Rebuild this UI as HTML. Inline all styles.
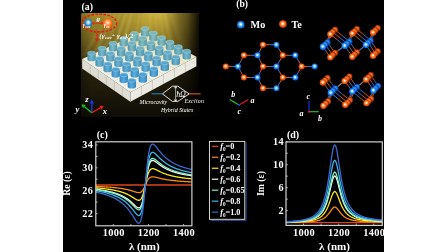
<!DOCTYPE html>
<html><head><meta charset="utf-8"><style>
html,body{margin:0;padding:0;background:#fff;}
body{width:448px;height:252px;overflow:hidden;position:relative;}
#blk{position:absolute;left:63px;top:0;width:321px;height:252px;background:#000;overflow:hidden;}
#fig{position:absolute;left:0;top:0;}
</style></head><body>
<div id="blk"></div>
<svg id="fig" width="448" height="252" viewBox="0 0 448 252">
<clipPath id="blkclip"><rect x="63" y="0" width="321" height="252"/></clipPath>
<g clip-path="url(#blkclip)">
<defs>
<radialGradient id="glow" cx="165" cy="8" r="75" gradientUnits="userSpaceOnUse">
<stop offset="0" stop-color="#c8a82a"/><stop offset="0.35" stop-color="#8a7418"/><stop offset="0.75" stop-color="#3c3210"/><stop offset="1" stop-color="#1c1808"/></radialGradient>
<radialGradient id="sb" cx="0.48" cy="0.46" r="0.6"><stop offset="0" stop-color="#ffffff"/><stop offset="0.18" stop-color="#e0f4ff"/><stop offset="0.38" stop-color="#58b4ff"/><stop offset="0.6" stop-color="#1a80f0"/><stop offset="1" stop-color="#0850c0"/></radialGradient>
<radialGradient id="so" cx="0.48" cy="0.46" r="0.6"><stop offset="0" stop-color="#ffffff"/><stop offset="0.18" stop-color="#fff0d8"/><stop offset="0.38" stop-color="#ff8a3a"/><stop offset="0.6" stop-color="#f05a10"/><stop offset="1" stop-color="#c03800"/></radialGradient>
<radialGradient id="sob" cx="0.46" cy="0.44" r="0.62"><stop offset="0" stop-color="#ff8a40"/><stop offset="0.6" stop-color="#e05010"/><stop offset="1" stop-color="#902800"/></radialGradient>
<radialGradient id="sbb" cx="0.46" cy="0.44" r="0.62"><stop offset="0" stop-color="#40a0ff"/><stop offset="0.6" stop-color="#1a70e0"/><stop offset="1" stop-color="#0840a0"/></radialGradient>
<radialGradient id="sbA" cx="0.5" cy="0.42" r="0.6"><stop offset="0" stop-color="#fffce0"/><stop offset="0.3" stop-color="#a0d0e0"/><stop offset="0.6" stop-color="#3090d0"/><stop offset="1" stop-color="#105ca0"/></radialGradient>
<radialGradient id="soA" cx="0.5" cy="0.45" r="0.6"><stop offset="0" stop-color="#fff8e8"/><stop offset="0.3" stop-color="#ffb070"/><stop offset="0.65" stop-color="#ff6a18"/><stop offset="1" stop-color="#d84000"/></radialGradient>
<linearGradient id="ray" x1="0" y1="0" x2="0" y2="1"><stop offset="0" stop-color="#ffe070" stop-opacity="0.35"/><stop offset="1" stop-color="#ffe070" stop-opacity="0"/></linearGradient>
</defs>
<clipPath id="clipA"><rect x="81" y="13" width="118" height="104" rx="1.5"/></clipPath>
<linearGradient id="bgv" x1="0" y1="13" x2="0" y2="117" gradientUnits="userSpaceOnUse"><stop offset="0" stop-color="#a48e2c"/><stop offset="0.3" stop-color="#74621e"/><stop offset="0.55" stop-color="#2a240d"/><stop offset="1" stop-color="#0e0c06"/></linearGradient>
<linearGradient id="bgh" x1="81" y1="0" x2="199" y2="0" gradientUnits="userSpaceOnUse"><stop offset="0" stop-color="#000" stop-opacity="0.25"/><stop offset="0.1" stop-color="#000" stop-opacity="0.0"/><stop offset="0.6" stop-color="#000" stop-opacity="0"/><stop offset="0.72" stop-color="#000" stop-opacity="0.05"/><stop offset="0.9" stop-color="#000" stop-opacity="0.45"/><stop offset="1" stop-color="#000" stop-opacity="0.9"/></linearGradient>
<radialGradient id="glow2" cx="158" cy="11" r="46" gradientUnits="userSpaceOnUse"><stop offset="0" stop-color="#f0d048" stop-opacity="0.6"/><stop offset="0.5" stop-color="#d0b038" stop-opacity="0.3"/><stop offset="1" stop-color="#c8a830" stop-opacity="0"/></radialGradient>
<filter id="blur1" x="-20%" y="-20%" width="140%" height="140%"><feGaussianBlur stdDeviation="1.2"/></filter>
<g clip-path="url(#clipA)">
<rect x="81" y="13" width="118" height="104" fill="url(#bgv)"/>
<rect x="81" y="13" width="118" height="104" fill="url(#glow2)"/>
<g filter="url(#blur1)"><polygon points="150,-55 82.19,55.91 84.74,57.43" fill="#ffe878" opacity="0.14"/><polygon points="150,-55 88.95,59.77 91.78,61.23" fill="#ffe878" opacity="0.11"/><polygon points="150,-55 89.93,60.29 93.27,61.97" fill="#ffe878" opacity="0.13"/><polygon points="150,-55 95.95,63.23 99.75,64.89" fill="#ffe878" opacity="0.16"/><polygon points="150,-55 105.36,67.1 108,68.03" fill="#ffe878" opacity="0.18"/><polygon points="150,-55 105.86,67.28 108.89,68.33" fill="#ffe878" opacity="0.20"/><polygon points="150,-55 113.27,69.7 116.62,70.64" fill="#ffe878" opacity="0.18"/><polygon points="150,-55 115.44,70.32 118.85,71.21" fill="#ffe878" opacity="0.17"/><polygon points="150,-55 123.17,72.2 124.78,72.53" fill="#ffe878" opacity="0.20"/><polygon points="150,-55 128.75,73.25 132.14,73.77" fill="#ffe878" opacity="0.21"/><polygon points="150,-55 135.46,74.18 139.4,74.57" fill="#ffe878" opacity="0.15"/><polygon points="150,-55 142.05,74.76 144.76,74.89" fill="#ffe878" opacity="0.21"/><polygon points="150,-55 148.43,74.99 150.24,75" fill="#ffe878" opacity="0.12"/><polygon points="150,-55 148.2,74.99 152.27,74.98" fill="#ffe878" opacity="0.15"/><polygon points="150,-55 157.25,74.8 159.59,74.65" fill="#ffe878" opacity="0.16"/><polygon points="150,-55 160.94,74.54 163.4,74.31" fill="#ffe878" opacity="0.17"/><polygon points="150,-55 166.94,73.89 170.81,73.32" fill="#ffe878" opacity="0.18"/><polygon points="150,-55 174.65,72.64 178.35,71.87" fill="#ffe878" opacity="0.22"/><polygon points="150,-55 179.1,71.7 181.03,71.24" fill="#ffe878" opacity="0.20"/><polygon points="150,-55 185.33,70.11 189.08,68.99" fill="#ffe878" opacity="0.17"/><polygon points="150,-55 189.73,68.78 191.73,68.12" fill="#ffe878" opacity="0.20"/><polygon points="150,-55 193.85,67.38 196.01,66.59" fill="#ffe878" opacity="0.11"/></g>
<rect x="81" y="13" width="118" height="104" fill="url(#bgh)"/>
</g>
<linearGradient id="topf" x1="146" y1="30" x2="130" y2="92" gradientUnits="userSpaceOnUse"><stop offset="0" stop-color="#ece0a8"/><stop offset="0.45" stop-color="#efecd8"/><stop offset="1" stop-color="#f4f4ee"/></linearGradient>
<polygon points="82.2,58.9 130.4,92.2 130.4,101.7 82.2,68.4" fill="#deddd4"/>
<polygon points="130.4,92.2 196.4,56.7 196.4,66.2 130.4,101.7" fill="#eaeae2"/>
<polygon points="146.3,30.1 82.2,58.9 130.4,92.2 196.4,56.7" fill="url(#topf)"/>
<line x1="90.23" y1="64.45" x2="90.23" y2="73.95" stroke="#aaa696" stroke-width="0.45"/>
<line x1="185.4" y1="62.62" x2="185.4" y2="72.12" stroke="#aaa696" stroke-width="0.45"/>
<line x1="135.62" y1="34.9" x2="185.4" y2="62.62" stroke="#d0ccb4" stroke-width="0.4"/>
<line x1="154.65" y1="34.53" x2="90.23" y2="64.45" stroke="#d0ccb4" stroke-width="0.4"/>
<line x1="98.27" y1="70" x2="98.27" y2="79.5" stroke="#aaa696" stroke-width="0.45"/>
<line x1="174.4" y1="68.53" x2="174.4" y2="78.03" stroke="#aaa696" stroke-width="0.45"/>
<line x1="124.93" y1="39.7" x2="174.4" y2="68.53" stroke="#d0ccb4" stroke-width="0.4"/>
<line x1="163" y1="38.97" x2="98.27" y2="70" stroke="#d0ccb4" stroke-width="0.4"/>
<line x1="106.3" y1="75.55" x2="106.3" y2="85.05" stroke="#aaa696" stroke-width="0.45"/>
<line x1="163.4" y1="74.45" x2="163.4" y2="83.95" stroke="#aaa696" stroke-width="0.45"/>
<line x1="114.25" y1="44.5" x2="163.4" y2="74.45" stroke="#d0ccb4" stroke-width="0.4"/>
<line x1="171.35" y1="43.4" x2="106.3" y2="75.55" stroke="#d0ccb4" stroke-width="0.4"/>
<line x1="114.33" y1="81.1" x2="114.33" y2="90.6" stroke="#aaa696" stroke-width="0.45"/>
<line x1="152.4" y1="80.37" x2="152.4" y2="89.87" stroke="#aaa696" stroke-width="0.45"/>
<line x1="103.57" y1="49.3" x2="152.4" y2="80.37" stroke="#d0ccb4" stroke-width="0.4"/>
<line x1="179.7" y1="47.83" x2="114.33" y2="81.1" stroke="#d0ccb4" stroke-width="0.4"/>
<line x1="122.37" y1="86.65" x2="122.37" y2="96.15" stroke="#aaa696" stroke-width="0.45"/>
<line x1="141.4" y1="86.28" x2="141.4" y2="95.78" stroke="#aaa696" stroke-width="0.45"/>
<line x1="92.88" y1="54.1" x2="141.4" y2="86.28" stroke="#d0ccb4" stroke-width="0.4"/>
<line x1="188.05" y1="52.27" x2="122.37" y2="86.65" stroke="#d0ccb4" stroke-width="0.4"/>
<line x1="130.4" y1="92.2" x2="130.4" y2="101.7" stroke="#b8b4a2" stroke-width="0.5"/>
<linearGradient id="cylb" x1="0" y1="0" x2="1" y2="0"><stop offset="0" stop-color="#2a74b8"/><stop offset="0.45" stop-color="#4a9ede"/><stop offset="1" stop-color="#2c78be"/></linearGradient>
<linearGradient id="cylg" x1="0" y1="0" x2="1" y2="0"><stop offset="0" stop-color="#4a8ea0"/><stop offset="0.45" stop-color="#76b4c0"/><stop offset="1" stop-color="#4c90a4"/></linearGradient>
<linearGradient id="cg39" x1="0" y1="0" x2="1" y2="0"><stop offset="0" stop-color="#5a98a0"/><stop offset="0.45" stop-color="#86bec0"/><stop offset="1" stop-color="#5a98a0"/></linearGradient>
<path d="M140.92,28.56 L140.92,34.76 A4.2,2.1 0 0 0 149.32,34.76 L149.32,28.56 Z" fill="url(#cg39)"/>
<ellipse cx="145.12" cy="28.56" rx="3.9000000000000004" ry="1.9000000000000001" fill="#7cb6bc" stroke="#a8d0cc" stroke-width="0.6"/>
<linearGradient id="cg42" x1="0" y1="0" x2="1" y2="0"><stop offset="0" stop-color="#5a98a0"/><stop offset="0.45" stop-color="#86bec0"/><stop offset="1" stop-color="#5a98a0"/></linearGradient>
<path d="M149.24,33.09 L149.24,39.29 A4.2,2.1 0 0 0 157.64,39.29 L157.64,33.09 Z" fill="url(#cg42)"/>
<ellipse cx="153.44" cy="33.09" rx="3.9000000000000004" ry="1.9000000000000001" fill="#7cb6bc" stroke="#a8d0cc" stroke-width="0.6"/>
<linearGradient id="cg45" x1="0" y1="0" x2="1" y2="0"><stop offset="0" stop-color="#5a98a0"/><stop offset="0.45" stop-color="#86bec0"/><stop offset="1" stop-color="#5a98a0"/></linearGradient>
<path d="M130.21,33.46 L130.21,39.66 A4.2,2.1 0 0 0 138.61,39.66 L138.61,33.46 Z" fill="url(#cg45)"/>
<ellipse cx="134.41" cy="33.46" rx="3.9000000000000004" ry="1.9000000000000001" fill="#7cb6bc" stroke="#a8d0cc" stroke-width="0.6"/>
<linearGradient id="cg48" x1="0" y1="0" x2="1" y2="0"><stop offset="0" stop-color="#5897a2"/><stop offset="0.45" stop-color="#83bdc2"/><stop offset="1" stop-color="#5897a2"/></linearGradient>
<path d="M157.57,37.62 L157.57,43.82 A4.2,2.1 0 0 0 165.97,43.82 L165.97,37.62 Z" fill="url(#cg48)"/>
<ellipse cx="161.77" cy="37.62" rx="3.9000000000000004" ry="1.9000000000000001" fill="#79b5bd" stroke="#a6cfce" stroke-width="0.6"/>
<linearGradient id="cg51" x1="0" y1="0" x2="1" y2="0"><stop offset="0" stop-color="#5797a2"/><stop offset="0.45" stop-color="#82bdc2"/><stop offset="1" stop-color="#5797a2"/></linearGradient>
<path d="M138.48,38.17 L138.48,44.37 A4.2,2.1 0 0 0 146.88,44.37 L146.88,38.17 Z" fill="url(#cg51)"/>
<ellipse cx="142.68" cy="38.17" rx="3.9000000000000004" ry="1.9000000000000001" fill="#79b4be" stroke="#a6cfce" stroke-width="0.6"/>
<linearGradient id="cg54" x1="0" y1="0" x2="1" y2="0"><stop offset="0" stop-color="#5797a2"/><stop offset="0.45" stop-color="#82bdc2"/><stop offset="1" stop-color="#5797a2"/></linearGradient>
<path d="M119.5,38.35 L119.5,44.55 A4.2,2.1 0 0 0 127.9,44.55 L127.9,38.35 Z" fill="url(#cg54)"/>
<ellipse cx="123.7" cy="38.35" rx="3.9000000000000004" ry="1.9000000000000001" fill="#78b4be" stroke="#a5cfce" stroke-width="0.6"/>
<linearGradient id="cg57" x1="0" y1="0" x2="1" y2="0"><stop offset="0" stop-color="#5495a5"/><stop offset="0.45" stop-color="#7ebbc4"/><stop offset="1" stop-color="#5495a5"/></linearGradient>
<path d="M165.89,42.14 L165.89,48.34 A4.2,2.1 0 0 0 174.29,48.34 L174.29,42.14 Z" fill="url(#cg57)"/>
<ellipse cx="170.09" cy="42.14" rx="3.9000000000000004" ry="1.9000000000000001" fill="#75b2c0" stroke="#a3ced1" stroke-width="0.6"/>
<linearGradient id="cg60" x1="0" y1="0" x2="1" y2="0"><stop offset="0" stop-color="#5395a5"/><stop offset="0.45" stop-color="#7ebbc5"/><stop offset="1" stop-color="#5395a5"/></linearGradient>
<path d="M146.75,42.88 L146.75,49.08 A4.2,2.1 0 0 0 155.15,49.08 L155.15,42.88 Z" fill="url(#cg60)"/>
<ellipse cx="150.95" cy="42.88" rx="3.9000000000000004" ry="1.9000000000000001" fill="#74b2c0" stroke="#a2ced1" stroke-width="0.6"/>
<linearGradient id="cg63" x1="0" y1="0" x2="1" y2="0"><stop offset="0" stop-color="#5394a6"/><stop offset="0.45" stop-color="#7dbac5"/><stop offset="1" stop-color="#5394a6"/></linearGradient>
<path d="M108.79,43.24 L108.79,49.44 A4.2,2.1 0 0 0 117.19,49.44 L117.19,43.24 Z" fill="url(#cg63)"/>
<ellipse cx="112.99" cy="43.24" rx="3.9000000000000004" ry="1.9000000000000001" fill="#74b2c0" stroke="#a2ced1" stroke-width="0.6"/>
<linearGradient id="cg66" x1="0" y1="0" x2="1" y2="0"><stop offset="0" stop-color="#5394a6"/><stop offset="0.45" stop-color="#7dbac5"/><stop offset="1" stop-color="#5394a6"/></linearGradient>
<path d="M127.72,43.25 L127.72,49.45 A4.2,2.1 0 0 0 136.12,49.45 L136.12,43.25 Z" fill="url(#cg66)"/>
<ellipse cx="131.92" cy="43.25" rx="3.9000000000000004" ry="1.9000000000000001" fill="#74b2c0" stroke="#a2ced1" stroke-width="0.6"/>
<linearGradient id="cg69" x1="0" y1="0" x2="1" y2="0"><stop offset="0" stop-color="#5093a8"/><stop offset="0.45" stop-color="#79b9c7"/><stop offset="1" stop-color="#5093a8"/></linearGradient>
<path d="M174.21,46.67 L174.21,52.87 A4.2,2.1 0 0 0 182.61,52.87 L182.61,46.67 Z" fill="url(#cg69)"/>
<ellipse cx="178.41" cy="46.67" rx="3.9000000000000004" ry="1.9000000000000001" fill="#70b0c2" stroke="#9fcdd4" stroke-width="0.6"/>
<linearGradient id="cg72" x1="0" y1="0" x2="1" y2="0"><stop offset="0" stop-color="#4f92a9"/><stop offset="0.45" stop-color="#78b8c8"/><stop offset="1" stop-color="#4f92a9"/></linearGradient>
<path d="M155.02,47.59 L155.02,53.79 A4.2,2.1 0 0 0 163.42,53.79 L163.42,47.59 Z" fill="url(#cg72)"/>
<ellipse cx="159.22" cy="47.59" rx="3.9000000000000004" ry="1.9000000000000001" fill="#6fafc3" stroke="#9fcdd4" stroke-width="0.6"/>
<linearGradient id="cg75" x1="0" y1="0" x2="1" y2="0"><stop offset="0" stop-color="#4e92a9"/><stop offset="0.45" stop-color="#77b8c8"/><stop offset="1" stop-color="#4e92a9"/></linearGradient>
<path d="M98.08,48.14 L98.08,54.34 A4.2,2.1 0 0 0 106.48,54.34 L106.48,48.14 Z" fill="url(#cg75)"/>
<ellipse cx="102.28" cy="48.14" rx="3.9000000000000004" ry="1.9000000000000001" fill="#6eafc3" stroke="#9ecdd5" stroke-width="0.6"/>
<linearGradient id="cg78" x1="0" y1="0" x2="1" y2="0"><stop offset="0" stop-color="#4e92a9"/><stop offset="0.45" stop-color="#77b8c8"/><stop offset="1" stop-color="#4e92a9"/></linearGradient>
<path d="M135.94,48.15 L135.94,54.35 A4.2,2.1 0 0 0 144.34,54.35 L144.34,48.15 Z" fill="url(#cg78)"/>
<ellipse cx="140.14" cy="48.15" rx="3.9000000000000004" ry="1.9000000000000001" fill="#6eafc3" stroke="#9ecdd5" stroke-width="0.6"/>
<linearGradient id="cg81" x1="0" y1="0" x2="1" y2="0"><stop offset="0" stop-color="#4e92a9"/><stop offset="0.45" stop-color="#77b8c8"/><stop offset="1" stop-color="#4e92a9"/></linearGradient>
<path d="M116.96,48.33 L116.96,54.53 A4.2,2.1 0 0 0 125.36,54.53 L125.36,48.33 Z" fill="url(#cg81)"/>
<ellipse cx="121.16" cy="48.33" rx="3.9000000000000004" ry="1.9000000000000001" fill="#6eafc3" stroke="#9ecdd5" stroke-width="0.6"/>
<linearGradient id="cg84" x1="0" y1="0" x2="1" y2="0"><stop offset="0" stop-color="#4b91ac"/><stop offset="0.45" stop-color="#74b7ca"/><stop offset="1" stop-color="#4b91ac"/></linearGradient>
<path d="M182.54,51.2 L182.54,57.4 A4.2,2.1 0 0 0 190.94,57.4 L190.94,51.2 Z" fill="url(#cg84)"/>
<ellipse cx="186.74" cy="51.2" rx="3.9000000000000004" ry="1.9000000000000001" fill="#6aadc5" stroke="#9bccd7" stroke-width="0.6"/>
<linearGradient id="cg87" x1="0" y1="0" x2="1" y2="0"><stop offset="0" stop-color="#4a90ad"/><stop offset="0.45" stop-color="#72b6cb"/><stop offset="1" stop-color="#4a90ad"/></linearGradient>
<path d="M163.29,52.31 L163.29,58.51 A4.2,2.1 0 0 0 171.69,58.51 L171.69,52.31 Z" fill="url(#cg87)"/>
<ellipse cx="167.49" cy="52.31" rx="3.9000000000000004" ry="1.9000000000000001" fill="#69acc6" stroke="#9bccd8" stroke-width="0.6"/>
<linearGradient id="cg90" x1="0" y1="0" x2="1" y2="0"><stop offset="0" stop-color="#4990ad"/><stop offset="0.45" stop-color="#71b6cc"/><stop offset="1" stop-color="#4990ad"/></linearGradient>
<path d="M87.37,53.03 L87.37,59.23 A4.2,2.1 0 0 0 95.77,59.23 L95.77,53.03 Z" fill="url(#cg90)"/>
<ellipse cx="91.57" cy="53.03" rx="3.9000000000000004" ry="1.9000000000000001" fill="#68acc6" stroke="#9accd8" stroke-width="0.6"/>
<linearGradient id="cg93" x1="0" y1="0" x2="1" y2="0"><stop offset="0" stop-color="#4990ad"/><stop offset="0.45" stop-color="#71b6cc"/><stop offset="1" stop-color="#4990ad"/></linearGradient>
<path d="M144.15,53.05 L144.15,59.25 A4.2,2.1 0 0 0 152.55,59.25 L152.55,53.05 Z" fill="url(#cg93)"/>
<ellipse cx="148.35" cy="53.05" rx="3.9000000000000004" ry="1.9000000000000001" fill="#68acc6" stroke="#9accd8" stroke-width="0.6"/>
<linearGradient id="cg96" x1="0" y1="0" x2="1" y2="0"><stop offset="0" stop-color="#498fae"/><stop offset="0.45" stop-color="#71b5cc"/><stop offset="1" stop-color="#498fae"/></linearGradient>
<path d="M106.19,53.41 L106.19,59.61 A4.2,2.1 0 0 0 114.59,59.61 L114.59,53.41 Z" fill="url(#cg96)"/>
<ellipse cx="110.39" cy="53.41" rx="3.9000000000000004" ry="1.9000000000000001" fill="#68acc6" stroke="#9accd9" stroke-width="0.6"/>
<linearGradient id="cg99" x1="0" y1="0" x2="1" y2="0"><stop offset="0" stop-color="#498fae"/><stop offset="0.45" stop-color="#71b5cc"/><stop offset="1" stop-color="#498fae"/></linearGradient>
<path d="M125.12,53.41 L125.12,59.61 A4.2,2.1 0 0 0 133.52,59.61 L133.52,53.41 Z" fill="url(#cg99)"/>
<ellipse cx="129.32" cy="53.41" rx="3.9000000000000004" ry="1.9000000000000001" fill="#68acc6" stroke="#9accd9" stroke-width="0.6"/>
<linearGradient id="cg102" x1="0" y1="0" x2="1" y2="0"><stop offset="0" stop-color="#458eb1"/><stop offset="0.45" stop-color="#6cb4cf"/><stop offset="1" stop-color="#458eb1"/></linearGradient>
<path d="M171.56,57.02 L171.56,63.22 A4.2,2.1 0 0 0 179.96,63.22 L179.96,57.02 Z" fill="url(#cg102)"/>
<ellipse cx="175.76" cy="57.02" rx="3.9000000000000004" ry="1.9000000000000001" fill="#63aac8" stroke="#96cbdc" stroke-width="0.6"/>
<linearGradient id="cg105" x1="0" y1="0" x2="1" y2="0"><stop offset="0" stop-color="#448db1"/><stop offset="0.45" stop-color="#6bb3cf"/><stop offset="1" stop-color="#448db1"/></linearGradient>
<path d="M152.37,57.94 L152.37,64.14 A4.2,2.1 0 0 0 160.77,64.14 L160.77,57.94 Z" fill="url(#cg105)"/>
<ellipse cx="156.57" cy="57.94" rx="3.9000000000000004" ry="1.9000000000000001" fill="#62a9c9" stroke="#95cbdc" stroke-width="0.6"/>
<linearGradient id="cg108" x1="0" y1="0" x2="1" y2="0"><stop offset="0" stop-color="#448db2"/><stop offset="0.45" stop-color="#6ab3d0"/><stop offset="1" stop-color="#448db2"/></linearGradient>
<path d="M95.43,58.49 L95.43,64.69 A4.2,2.1 0 0 0 103.83,64.69 L103.83,58.49 Z" fill="url(#cg108)"/>
<ellipse cx="99.63" cy="58.49" rx="3.9000000000000004" ry="1.9000000000000001" fill="#61a9c9" stroke="#95cadd" stroke-width="0.6"/>
<linearGradient id="cg111" x1="0" y1="0" x2="1" y2="0"><stop offset="0" stop-color="#448db2"/><stop offset="0.45" stop-color="#6ab3d0"/><stop offset="1" stop-color="#448db2"/></linearGradient>
<path d="M133.29,58.5 L133.29,64.7 A4.2,2.1 0 0 0 141.69,64.7 L141.69,58.5 Z" fill="url(#cg111)"/>
<ellipse cx="137.49" cy="58.5" rx="3.9000000000000004" ry="1.9000000000000001" fill="#61a9c9" stroke="#95cadd" stroke-width="0.6"/>
<linearGradient id="cg114" x1="0" y1="0" x2="1" y2="0"><stop offset="0" stop-color="#438db2"/><stop offset="0.45" stop-color="#6ab3d0"/><stop offset="1" stop-color="#438db2"/></linearGradient>
<path d="M114.31,58.68 L114.31,64.88 A4.2,2.1 0 0 0 122.71,64.88 L122.71,58.68 Z" fill="url(#cg114)"/>
<ellipse cx="118.51" cy="58.68" rx="3.9000000000000004" ry="1.9000000000000001" fill="#61a8ca" stroke="#95cadd" stroke-width="0.6"/>
<linearGradient id="cg117" x1="0" y1="0" x2="1" y2="0"><stop offset="0" stop-color="#3f8ab6"/><stop offset="0.45" stop-color="#64b0d3"/><stop offset="1" stop-color="#3f8ab6"/></linearGradient>
<path d="M160.59,62.84 L160.59,69.04 A4.2,2.1 0 0 0 168.99,69.04 L168.99,62.84 Z" fill="url(#cg117)"/>
<ellipse cx="164.79" cy="62.84" rx="3.9000000000000004" ry="1.9000000000000001" fill="#5ba6cc" stroke="#91c9e0" stroke-width="0.6"/>
<linearGradient id="cg120" x1="0" y1="0" x2="1" y2="0"><stop offset="0" stop-color="#3e8ab6"/><stop offset="0.45" stop-color="#63b0d4"/><stop offset="1" stop-color="#3e8ab6"/></linearGradient>
<path d="M141.45,63.58 L141.45,69.78 A4.2,2.1 0 0 0 149.85,69.78 L149.85,63.58 Z" fill="url(#cg120)"/>
<ellipse cx="145.65" cy="63.58" rx="3.9000000000000004" ry="1.9000000000000001" fill="#5aa5cd" stroke="#90c9e1" stroke-width="0.6"/>
<linearGradient id="cg123" x1="0" y1="0" x2="1" y2="0"><stop offset="0" stop-color="#3e8ab7"/><stop offset="0.45" stop-color="#62b0d4"/><stop offset="1" stop-color="#3e8ab7"/></linearGradient>
<path d="M103.49,63.94 L103.49,70.14 A4.2,2.1 0 0 0 111.89,70.14 L111.89,63.94 Z" fill="url(#cg123)"/>
<ellipse cx="107.69" cy="63.94" rx="3.9000000000000004" ry="1.9000000000000001" fill="#5aa5cd" stroke="#90c9e1" stroke-width="0.6"/>
<linearGradient id="cg126" x1="0" y1="0" x2="1" y2="0"><stop offset="0" stop-color="#3e8ab7"/><stop offset="0.45" stop-color="#62b0d4"/><stop offset="1" stop-color="#3e8ab7"/></linearGradient>
<path d="M122.42,63.95 L122.42,70.15 A4.2,2.1 0 0 0 130.82,70.15 L130.82,63.95 Z" fill="url(#cg126)"/>
<ellipse cx="126.62" cy="63.95" rx="3.9000000000000004" ry="1.9000000000000001" fill="#5aa5cd" stroke="#90c9e1" stroke-width="0.6"/>
<linearGradient id="cg129" x1="0" y1="0" x2="1" y2="0"><stop offset="0" stop-color="#3887bb"/><stop offset="0.45" stop-color="#5cadd8"/><stop offset="1" stop-color="#3887bb"/></linearGradient>
<path d="M149.62,68.67 L149.62,74.87 A4.2,2.1 0 0 0 158.02,74.87 L158.02,68.67 Z" fill="url(#cg129)"/>
<ellipse cx="153.82" cy="68.67" rx="3.9000000000000004" ry="1.9000000000000001" fill="#53a2d0" stroke="#8bc8e5" stroke-width="0.6"/>
<linearGradient id="cg132" x1="0" y1="0" x2="1" y2="0"><stop offset="0" stop-color="#3787bc"/><stop offset="0.45" stop-color="#5badd8"/><stop offset="1" stop-color="#3787bc"/></linearGradient>
<path d="M130.53,69.22 L130.53,75.42 A4.2,2.1 0 0 0 138.93,75.42 L138.93,69.22 Z" fill="url(#cg132)"/>
<ellipse cx="134.73" cy="69.22" rx="3.9000000000000004" ry="1.9000000000000001" fill="#53a1d1" stroke="#8bc7e6" stroke-width="0.6"/>
<linearGradient id="cg135" x1="0" y1="0" x2="1" y2="0"><stop offset="0" stop-color="#3787bc"/><stop offset="0.45" stop-color="#5badd8"/><stop offset="1" stop-color="#3787bc"/></linearGradient>
<path d="M111.55,69.4 L111.55,75.6 A4.2,2.1 0 0 0 119.95,75.6 L119.95,69.4 Z" fill="url(#cg135)"/>
<ellipse cx="115.75" cy="69.4" rx="3.9000000000000004" ry="1.9000000000000001" fill="#52a1d1" stroke="#8ac7e6" stroke-width="0.6"/>
<linearGradient id="cg138" x1="0" y1="0" x2="1" y2="0"><stop offset="0" stop-color="#3284c0"/><stop offset="0.45" stop-color="#54aadc"/><stop offset="1" stop-color="#3284c0"/></linearGradient>
<path d="M138.64,74.49 L138.64,80.69 A4.2,2.1 0 0 0 147.04,80.69 L147.04,74.49 Z" fill="url(#cg138)"/>
<ellipse cx="142.84" cy="74.49" rx="3.9000000000000004" ry="1.9000000000000001" fill="#4c9ed4" stroke="#86c6ea" stroke-width="0.6"/>
<linearGradient id="cg141" x1="0" y1="0" x2="1" y2="0"><stop offset="0" stop-color="#3284c0"/><stop offset="0.45" stop-color="#54aadc"/><stop offset="1" stop-color="#3284c0"/></linearGradient>
<path d="M119.61,74.86 L119.61,81.06 A4.2,2.1 0 0 0 128.01,81.06 L128.01,74.86 Z" fill="url(#cg141)"/>
<ellipse cx="123.81" cy="74.86" rx="3.9000000000000004" ry="1.9000000000000001" fill="#4c9ed4" stroke="#86c6ea" stroke-width="0.6"/>
<linearGradient id="cg144" x1="0" y1="0" x2="1" y2="0"><stop offset="0" stop-color="#3284c0"/><stop offset="0.45" stop-color="#54aadc"/><stop offset="1" stop-color="#3284c0"/></linearGradient>
<path d="M127.67,80.31 L127.67,86.51 A4.2,2.1 0 0 0 136.07,86.51 L136.07,80.31 Z" fill="url(#cg144)"/>
<ellipse cx="131.87" cy="80.31" rx="3.9000000000000004" ry="1.9000000000000001" fill="#4c9ed4" stroke="#86c6ea" stroke-width="0.6"/>
<ellipse cx="99.1" cy="23" rx="17.6" ry="8.9" fill="none" stroke="#f01010" stroke-width="1.35" stroke-dasharray="2.6 1.4"/>
<circle cx="88.3" cy="23.1" r="4" fill="url(#sbA)"/>
<circle cx="107.7" cy="23.2" r="5" fill="url(#soA)"/>
<line x1="92.6" y1="23.2" x2="102.6" y2="23.2" stroke="#e81818" stroke-width="0.9"/>
<path d="M94.1,21.8 L92.5,23.2 L94.1,24.6 M101.1,21.8 L102.7,23.2 L101.1,24.6" fill="none" stroke="#e81818" stroke-width="0.8"/>
<text x="96.4" y="20.6" font-size="7" font-style="italic" font-weight="bold" fill="#fff" font-family="Liberation Serif">g</text>
<text x="82.8" y="27.4" font-size="5.6" font-style="italic" font-weight="bold" fill="#fff" font-family="Liberation Serif">γ<tspan font-size="3.8" dy="0.6">cav</tspan></text>
<text x="103.8" y="26.9" font-size="5.6" font-style="italic" font-weight="bold" fill="#fff" font-family="Liberation Serif">γ<tspan font-size="3.8" dy="0.6">ex</tspan></text>
<path d="M96.4,30.8 l1.6,1.3 l-2,1.3 l2,1.3 l-2,1.3 l1.6,1.2" fill="none" stroke="#e81818" stroke-width="0.9"/>
<path d="M94.9,38.4 L96.9,42.2 L98.7,38.6 Z" fill="#e81818"/>
<text x="99.3" y="38" font-size="7" font-style="italic" font-weight="bold" fill="#fff" font-family="Liberation Serif" textLength="34">(γ<tspan font-size="4.6" dy="0.8">cav</tspan><tspan font-size="5" dy="-2.4">+</tspan><tspan dy="1.6"> γ</tspan><tspan font-size="4.6" dy="0.8">ex</tspan><tspan dy="-0.8">)/2</tspan></text>
<g stroke-width="1.3" fill="none"><line x1="91.8" y1="112.8" x2="91.8" y2="103" stroke="#1838ff"/><line x1="91.8" y1="112.8" x2="84.2" y2="106.6" stroke="#18c018"/><line x1="91.8" y1="112.8" x2="100.6" y2="107.8" stroke="#ff1818"/></g>
<path d="M91.8,99.4 L89.6,103.6 L94,103.6 Z" fill="#1838ff"/>
<path d="M81.4,104.2 L83,108.2 L85.8,104.9 Z" fill="#18c018"/>
<path d="M103.8,106 L99.4,105.8 L101.5,109.6 Z" fill="#ff1818"/>
<text x="85.2" y="102.2" font-size="8.6" font-style="italic" font-weight="bold" fill="#fff" font-family="Liberation Serif">z</text>
<text x="75.6" y="112.2" font-size="8.6" font-style="italic" font-weight="bold" fill="#fff" font-family="Liberation Serif">y</text>
<text x="102.8" y="113.6" font-size="8.6" font-style="italic" font-weight="bold" fill="#fff" font-family="Liberation Serif">x</text>
<path d="M162.4,93.8 L172.4,86.2 L177.8,86.2 L189.2,93.9 L177.8,101.4 L172.4,101.4 Z" fill="none" stroke="#fff" stroke-width="0.85"/>
<line x1="151.6" y1="93.8" x2="162.4" y2="93.8" stroke="#2a88d8" stroke-width="1"/>
<line x1="189.2" y1="93.9" x2="200.6" y2="93.9" stroke="#ee6a18" stroke-width="1"/>
<line x1="175.6" y1="87" x2="175.6" y2="100.6" stroke="#fff" stroke-width="0.6"/>
<path d="M174.4,88.4 L175.6,86.8 L176.8,88.4 M174.4,99.2 L175.6,100.8 L176.8,99.2 M174.2,87 L177,87 M174.2,100.6 L177,100.6" fill="none" stroke="#fff" stroke-width="0.6"/>
<text x="176.3" y="96.8" font-size="8" font-style="italic" fill="#fff" font-family="Liberation Serif" letter-spacing="-0.4">ħΩ</text>
<text x="139.6" y="103.8" font-size="5.8" font-style="italic" fill="#fff" font-family="Liberation Serif" textLength="27.6">Microcavity</text>
<text x="184.4" y="103.2" font-size="5.8" font-style="italic" fill="#fff" font-family="Liberation Serif" textLength="19.5">Exciton</text>
<text x="161" y="111.6" font-size="5.8" font-style="italic" fill="#fff" font-family="Liberation Serif" textLength="32.2">Hybrid States</text>
<text x="81.6" y="9.6" font-size="9.8" font-weight="bold" fill="#fff" font-family="Liberation Serif">(a)</text>
<text x="236.2" y="7.0" font-size="9.6" font-weight="bold" fill="#fff" font-family="Liberation Serif">(b)</text>
<circle cx="240.8" cy="24.7" r="3.8" fill="url(#sb)"/>
<text x="250.6" y="28.3" font-size="10.2" font-weight="bold" fill="#fff" font-family="Liberation Serif">Mo</text>
<circle cx="282.9" cy="24" r="3.8" fill="url(#so)"/>
<text x="291.4" y="27.9" font-size="10.2" font-weight="bold" fill="#fff" font-family="Liberation Serif">Te</text>
<line x1="263" y1="44.7" x2="269.7" y2="44.7" stroke="#f05a10" stroke-width="1"/>
<line x1="269.7" y1="44.7" x2="276.4" y2="44.7" stroke="#2a7ef0" stroke-width="1"/>
<line x1="263" y1="44.7" x2="260.25" y2="50" stroke="#f05a10" stroke-width="1"/>
<line x1="260.25" y1="50" x2="257.5" y2="55.3" stroke="#2a7ef0" stroke-width="1"/>
<line x1="276.4" y1="44.7" x2="279.6" y2="50" stroke="#2a7ef0" stroke-width="1"/>
<line x1="279.6" y1="50" x2="282.8" y2="55.3" stroke="#f05a10" stroke-width="1"/>
<line x1="243.9" y1="55.3" x2="250.7" y2="55.3" stroke="#f05a10" stroke-width="1"/>
<line x1="250.7" y1="55.3" x2="257.5" y2="55.3" stroke="#2a7ef0" stroke-width="1"/>
<line x1="282.8" y1="55.3" x2="289.05" y2="55.3" stroke="#f05a10" stroke-width="1"/>
<line x1="289.05" y1="55.3" x2="295.3" y2="55.3" stroke="#2a7ef0" stroke-width="1"/>
<line x1="243.9" y1="55.3" x2="240.95" y2="60.85" stroke="#f05a10" stroke-width="1"/>
<line x1="240.95" y1="60.85" x2="238" y2="66.4" stroke="#2a7ef0" stroke-width="1"/>
<line x1="257.5" y1="55.3" x2="260.25" y2="60.85" stroke="#2a7ef0" stroke-width="1"/>
<line x1="260.25" y1="60.85" x2="263" y2="66.4" stroke="#f05a10" stroke-width="1"/>
<line x1="282.8" y1="55.3" x2="279.6" y2="60.85" stroke="#f05a10" stroke-width="1"/>
<line x1="279.6" y1="60.85" x2="276.4" y2="66.4" stroke="#2a7ef0" stroke-width="1"/>
<line x1="295.3" y1="55.3" x2="298.5" y2="60.85" stroke="#2a7ef0" stroke-width="1"/>
<line x1="298.5" y1="60.85" x2="301.7" y2="66.4" stroke="#f05a10" stroke-width="1"/>
<line x1="225.8" y1="66.4" x2="231.9" y2="66.4" stroke="#f05a10" stroke-width="1"/>
<line x1="231.9" y1="66.4" x2="238" y2="66.4" stroke="#2a7ef0" stroke-width="1"/>
<line x1="263" y1="66.4" x2="269.7" y2="66.4" stroke="#f05a10" stroke-width="1"/>
<line x1="269.7" y1="66.4" x2="276.4" y2="66.4" stroke="#2a7ef0" stroke-width="1"/>
<line x1="301.7" y1="66.4" x2="308.2" y2="66.4" stroke="#f05a10" stroke-width="1"/>
<line x1="308.2" y1="66.4" x2="314.7" y2="66.4" stroke="#2a7ef0" stroke-width="1"/>
<line x1="238" y1="66.4" x2="240.95" y2="71.95" stroke="#2a7ef0" stroke-width="1"/>
<line x1="240.95" y1="71.95" x2="243.9" y2="77.5" stroke="#f05a10" stroke-width="1"/>
<line x1="263" y1="66.4" x2="260.25" y2="71.95" stroke="#f05a10" stroke-width="1"/>
<line x1="260.25" y1="71.95" x2="257.5" y2="77.5" stroke="#2a7ef0" stroke-width="1"/>
<line x1="276.4" y1="66.4" x2="279.6" y2="71.95" stroke="#2a7ef0" stroke-width="1"/>
<line x1="279.6" y1="71.95" x2="282.8" y2="77.5" stroke="#f05a10" stroke-width="1"/>
<line x1="301.7" y1="66.4" x2="298.5" y2="71.95" stroke="#f05a10" stroke-width="1"/>
<line x1="298.5" y1="71.95" x2="295.3" y2="77.5" stroke="#2a7ef0" stroke-width="1"/>
<line x1="243.9" y1="77.5" x2="250.7" y2="77.5" stroke="#f05a10" stroke-width="1"/>
<line x1="250.7" y1="77.5" x2="257.5" y2="77.5" stroke="#2a7ef0" stroke-width="1"/>
<line x1="282.8" y1="77.5" x2="289.05" y2="77.5" stroke="#f05a10" stroke-width="1"/>
<line x1="289.05" y1="77.5" x2="295.3" y2="77.5" stroke="#2a7ef0" stroke-width="1"/>
<line x1="257.5" y1="77.5" x2="260.25" y2="82.9" stroke="#2a7ef0" stroke-width="1"/>
<line x1="260.25" y1="82.9" x2="263" y2="88.3" stroke="#f05a10" stroke-width="1"/>
<line x1="282.8" y1="77.5" x2="279.6" y2="82.9" stroke="#f05a10" stroke-width="1"/>
<line x1="279.6" y1="82.9" x2="276.4" y2="88.3" stroke="#2a7ef0" stroke-width="1"/>
<line x1="263" y1="88.3" x2="269.7" y2="88.3" stroke="#f05a10" stroke-width="1"/>
<line x1="269.7" y1="88.3" x2="276.4" y2="88.3" stroke="#2a7ef0" stroke-width="1"/>
<circle cx="263" cy="44.7" r="3.0" fill="url(#so)"/>
<circle cx="276.4" cy="44.7" r="3.0" fill="url(#sb)"/>
<circle cx="243.9" cy="55.3" r="3.0" fill="url(#so)"/>
<circle cx="257.5" cy="55.3" r="3.0" fill="url(#sb)"/>
<circle cx="282.8" cy="55.3" r="3.0" fill="url(#so)"/>
<circle cx="295.3" cy="55.3" r="3.0" fill="url(#sb)"/>
<circle cx="225.8" cy="66.4" r="3.0" fill="url(#so)"/>
<circle cx="238" cy="66.4" r="3.0" fill="url(#sb)"/>
<circle cx="263" cy="66.4" r="3.0" fill="url(#so)"/>
<circle cx="276.4" cy="66.4" r="3.0" fill="url(#sb)"/>
<circle cx="301.7" cy="66.4" r="3.0" fill="url(#so)"/>
<circle cx="314.7" cy="66.4" r="3.0" fill="url(#sb)"/>
<circle cx="243.9" cy="77.5" r="3.0" fill="url(#so)"/>
<circle cx="257.5" cy="77.5" r="3.0" fill="url(#sb)"/>
<circle cx="282.8" cy="77.5" r="3.0" fill="url(#so)"/>
<circle cx="295.3" cy="77.5" r="3.0" fill="url(#sb)"/>
<circle cx="263" cy="88.3" r="3.0" fill="url(#so)"/>
<circle cx="276.4" cy="88.3" r="3.0" fill="url(#sb)"/>
<line x1="239" y1="105" x2="229.6" y2="99.6" stroke="#20d020" stroke-width="1.1"/>
<line x1="239" y1="105" x2="248.4" y2="99.6" stroke="#f01818" stroke-width="1.1"/>
<circle cx="239" cy="105" r="1.1" fill="#1830ff"/>
<text x="231.2" y="97.2" font-size="8" font-style="italic" font-weight="bold" fill="#fff" font-family="Liberation Serif">b</text>
<text x="250.6" y="102.6" font-size="8" font-style="italic" font-weight="bold" fill="#fff" font-family="Liberation Serif">a</text>
<text x="237.4" y="113.8" font-size="8" font-style="italic" font-weight="bold" fill="#fff" font-family="Liberation Serif">c</text>
<line x1="327.5" y1="42.3" x2="331.25" y2="36.05" stroke="#2a7ef0" stroke-width="0.9"/>
<line x1="331.25" y1="36.05" x2="335" y2="29.8" stroke="#f05a10" stroke-width="0.9"/>
<line x1="327.5" y1="42.3" x2="331.25" y2="47.6" stroke="#2a7ef0" stroke-width="0.9"/>
<line x1="331.25" y1="47.6" x2="335" y2="52.9" stroke="#f05a10" stroke-width="0.9"/>
<line x1="349.3" y1="41.4" x2="342.15" y2="35.6" stroke="#2a7ef0" stroke-width="0.9"/>
<line x1="342.15" y1="35.6" x2="335" y2="29.8" stroke="#f05a10" stroke-width="0.9"/>
<line x1="349.3" y1="41.4" x2="353.1" y2="35.25" stroke="#2a7ef0" stroke-width="0.9"/>
<line x1="353.1" y1="35.25" x2="356.9" y2="29.1" stroke="#f05a10" stroke-width="0.9"/>
<line x1="349.3" y1="41.4" x2="342.15" y2="47.15" stroke="#2a7ef0" stroke-width="0.9"/>
<line x1="342.15" y1="47.15" x2="335" y2="52.9" stroke="#f05a10" stroke-width="0.9"/>
<line x1="349.3" y1="41.4" x2="353.1" y2="46.85" stroke="#2a7ef0" stroke-width="0.9"/>
<line x1="353.1" y1="46.85" x2="356.9" y2="52.3" stroke="#f05a10" stroke-width="0.9"/>
<line x1="370.6" y1="40.4" x2="363.75" y2="34.75" stroke="#2a7ef0" stroke-width="0.9"/>
<line x1="363.75" y1="34.75" x2="356.9" y2="29.1" stroke="#f05a10" stroke-width="0.9"/>
<line x1="370.6" y1="40.4" x2="374.15" y2="34.25" stroke="#2a7ef0" stroke-width="0.9"/>
<line x1="374.15" y1="34.25" x2="377.7" y2="28.1" stroke="#f05a10" stroke-width="0.9"/>
<line x1="370.6" y1="40.4" x2="363.75" y2="46.35" stroke="#2a7ef0" stroke-width="0.9"/>
<line x1="363.75" y1="46.35" x2="356.9" y2="52.3" stroke="#f05a10" stroke-width="0.9"/>
<line x1="370.6" y1="40.4" x2="374.15" y2="45.85" stroke="#2a7ef0" stroke-width="0.9"/>
<line x1="374.15" y1="45.85" x2="377.7" y2="51.3" stroke="#f05a10" stroke-width="0.9"/>
<line x1="325.2" y1="44.5" x2="328.95" y2="38.25" stroke="#2a7ef0" stroke-width="0.9"/>
<line x1="328.95" y1="38.25" x2="332.7" y2="32" stroke="#f05a10" stroke-width="0.9"/>
<line x1="325.2" y1="44.5" x2="328.95" y2="49.8" stroke="#2a7ef0" stroke-width="0.9"/>
<line x1="328.95" y1="49.8" x2="332.7" y2="55.1" stroke="#f05a10" stroke-width="0.9"/>
<line x1="347" y1="43.6" x2="339.85" y2="37.8" stroke="#2a7ef0" stroke-width="0.9"/>
<line x1="339.85" y1="37.8" x2="332.7" y2="32" stroke="#f05a10" stroke-width="0.9"/>
<line x1="347" y1="43.6" x2="350.8" y2="37.45" stroke="#2a7ef0" stroke-width="0.9"/>
<line x1="350.8" y1="37.45" x2="354.6" y2="31.3" stroke="#f05a10" stroke-width="0.9"/>
<line x1="347" y1="43.6" x2="339.85" y2="49.35" stroke="#2a7ef0" stroke-width="0.9"/>
<line x1="339.85" y1="49.35" x2="332.7" y2="55.1" stroke="#f05a10" stroke-width="0.9"/>
<line x1="347" y1="43.6" x2="350.8" y2="49.05" stroke="#2a7ef0" stroke-width="0.9"/>
<line x1="350.8" y1="49.05" x2="354.6" y2="54.5" stroke="#f05a10" stroke-width="0.9"/>
<line x1="368.3" y1="42.6" x2="361.45" y2="36.95" stroke="#2a7ef0" stroke-width="0.9"/>
<line x1="361.45" y1="36.95" x2="354.6" y2="31.3" stroke="#f05a10" stroke-width="0.9"/>
<line x1="368.3" y1="42.6" x2="371.85" y2="36.45" stroke="#2a7ef0" stroke-width="0.9"/>
<line x1="371.85" y1="36.45" x2="375.4" y2="30.3" stroke="#f05a10" stroke-width="0.9"/>
<line x1="368.3" y1="42.6" x2="361.45" y2="48.55" stroke="#2a7ef0" stroke-width="0.9"/>
<line x1="361.45" y1="48.55" x2="354.6" y2="54.5" stroke="#f05a10" stroke-width="0.9"/>
<line x1="368.3" y1="42.6" x2="371.85" y2="48.05" stroke="#2a7ef0" stroke-width="0.9"/>
<line x1="371.85" y1="48.05" x2="375.4" y2="53.5" stroke="#f05a10" stroke-width="0.9"/>
<line x1="322.9" y1="46.7" x2="326.65" y2="40.45" stroke="#2a7ef0" stroke-width="0.9"/>
<line x1="326.65" y1="40.45" x2="330.4" y2="34.2" stroke="#f05a10" stroke-width="0.9"/>
<line x1="322.9" y1="46.7" x2="326.65" y2="52" stroke="#2a7ef0" stroke-width="0.9"/>
<line x1="326.65" y1="52" x2="330.4" y2="57.3" stroke="#f05a10" stroke-width="0.9"/>
<line x1="344.7" y1="45.8" x2="337.55" y2="40" stroke="#2a7ef0" stroke-width="0.9"/>
<line x1="337.55" y1="40" x2="330.4" y2="34.2" stroke="#f05a10" stroke-width="0.9"/>
<line x1="344.7" y1="45.8" x2="348.5" y2="39.65" stroke="#2a7ef0" stroke-width="0.9"/>
<line x1="348.5" y1="39.65" x2="352.3" y2="33.5" stroke="#f05a10" stroke-width="0.9"/>
<line x1="344.7" y1="45.8" x2="337.55" y2="51.55" stroke="#2a7ef0" stroke-width="0.9"/>
<line x1="337.55" y1="51.55" x2="330.4" y2="57.3" stroke="#f05a10" stroke-width="0.9"/>
<line x1="344.7" y1="45.8" x2="348.5" y2="51.25" stroke="#2a7ef0" stroke-width="0.9"/>
<line x1="348.5" y1="51.25" x2="352.3" y2="56.7" stroke="#f05a10" stroke-width="0.9"/>
<line x1="366" y1="44.8" x2="359.15" y2="39.15" stroke="#2a7ef0" stroke-width="0.9"/>
<line x1="359.15" y1="39.15" x2="352.3" y2="33.5" stroke="#f05a10" stroke-width="0.9"/>
<line x1="366" y1="44.8" x2="369.55" y2="38.65" stroke="#2a7ef0" stroke-width="0.9"/>
<line x1="369.55" y1="38.65" x2="373.1" y2="32.5" stroke="#f05a10" stroke-width="0.9"/>
<line x1="366" y1="44.8" x2="359.15" y2="50.75" stroke="#2a7ef0" stroke-width="0.9"/>
<line x1="359.15" y1="50.75" x2="352.3" y2="56.7" stroke="#f05a10" stroke-width="0.9"/>
<line x1="366" y1="44.8" x2="369.55" y2="50.25" stroke="#2a7ef0" stroke-width="0.9"/>
<line x1="369.55" y1="50.25" x2="373.1" y2="55.7" stroke="#f05a10" stroke-width="0.9"/>
<circle cx="335" cy="29.8" r="3.0" fill="url(#sob)" stroke="#601800" stroke-width="0.5"/>
<circle cx="356.9" cy="29.1" r="3.0" fill="url(#sob)" stroke="#601800" stroke-width="0.5"/>
<circle cx="377.7" cy="28.1" r="3.0" fill="url(#sob)" stroke="#601800" stroke-width="0.5"/>
<circle cx="335" cy="52.9" r="3.0" fill="url(#sob)" stroke="#601800" stroke-width="0.5"/>
<circle cx="356.9" cy="52.3" r="3.0" fill="url(#sob)" stroke="#601800" stroke-width="0.5"/>
<circle cx="377.7" cy="51.3" r="3.0" fill="url(#sob)" stroke="#601800" stroke-width="0.5"/>
<circle cx="327.5" cy="42.3" r="3.0" fill="url(#sbb)" stroke="#062a70" stroke-width="0.5"/>
<circle cx="349.3" cy="41.4" r="3.0" fill="url(#sbb)" stroke="#062a70" stroke-width="0.5"/>
<circle cx="370.6" cy="40.4" r="3.0" fill="url(#sbb)" stroke="#062a70" stroke-width="0.5"/>
<circle cx="332.7" cy="32" r="3.0" fill="url(#sob)" stroke="#601800" stroke-width="0.5"/>
<circle cx="354.6" cy="31.3" r="3.0" fill="url(#sob)" stroke="#601800" stroke-width="0.5"/>
<circle cx="375.4" cy="30.3" r="3.0" fill="url(#sob)" stroke="#601800" stroke-width="0.5"/>
<circle cx="332.7" cy="55.1" r="3.0" fill="url(#sob)" stroke="#601800" stroke-width="0.5"/>
<circle cx="354.6" cy="54.5" r="3.0" fill="url(#sob)" stroke="#601800" stroke-width="0.5"/>
<circle cx="375.4" cy="53.5" r="3.0" fill="url(#sob)" stroke="#601800" stroke-width="0.5"/>
<circle cx="325.2" cy="44.5" r="3.0" fill="url(#sbb)" stroke="#062a70" stroke-width="0.5"/>
<circle cx="347" cy="43.6" r="3.0" fill="url(#sbb)" stroke="#062a70" stroke-width="0.5"/>
<circle cx="368.3" cy="42.6" r="3.0" fill="url(#sbb)" stroke="#062a70" stroke-width="0.5"/>
<circle cx="330.4" cy="34.2" r="3.2" fill="url(#so)"/>
<circle cx="352.3" cy="33.5" r="3.2" fill="url(#so)"/>
<circle cx="373.1" cy="32.5" r="3.2" fill="url(#so)"/>
<circle cx="330.4" cy="57.3" r="3.2" fill="url(#so)"/>
<circle cx="352.3" cy="56.7" r="3.2" fill="url(#so)"/>
<circle cx="373.1" cy="55.7" r="3.2" fill="url(#so)"/>
<circle cx="322.9" cy="46.7" r="3.2" fill="url(#sb)"/>
<circle cx="344.7" cy="45.8" r="3.2" fill="url(#sb)"/>
<circle cx="366" cy="44.8" r="3.2" fill="url(#sb)"/>
<line x1="335.4" y1="88.4" x2="331.45" y2="83.25" stroke="#2a7ef0" stroke-width="0.9"/>
<line x1="331.45" y1="83.25" x2="327.5" y2="78.1" stroke="#f05a10" stroke-width="0.9"/>
<line x1="335.4" y1="88.4" x2="342.35" y2="82.45" stroke="#2a7ef0" stroke-width="0.9"/>
<line x1="342.35" y1="82.45" x2="349.3" y2="76.5" stroke="#f05a10" stroke-width="0.9"/>
<line x1="335.4" y1="88.4" x2="331.75" y2="94.85" stroke="#2a7ef0" stroke-width="0.9"/>
<line x1="331.75" y1="94.85" x2="328.1" y2="101.3" stroke="#f05a10" stroke-width="0.9"/>
<line x1="335.4" y1="88.4" x2="342.65" y2="94.35" stroke="#2a7ef0" stroke-width="0.9"/>
<line x1="342.65" y1="94.35" x2="349.9" y2="100.3" stroke="#f05a10" stroke-width="0.9"/>
<line x1="356.9" y1="87" x2="353.1" y2="81.75" stroke="#2a7ef0" stroke-width="0.9"/>
<line x1="353.1" y1="81.75" x2="349.3" y2="76.5" stroke="#f05a10" stroke-width="0.9"/>
<line x1="356.9" y1="87" x2="363.85" y2="81.05" stroke="#2a7ef0" stroke-width="0.9"/>
<line x1="363.85" y1="81.05" x2="370.8" y2="75.1" stroke="#f05a10" stroke-width="0.9"/>
<line x1="356.9" y1="87" x2="353.4" y2="93.65" stroke="#2a7ef0" stroke-width="0.9"/>
<line x1="353.4" y1="93.65" x2="349.9" y2="100.3" stroke="#f05a10" stroke-width="0.9"/>
<line x1="356.9" y1="87" x2="364" y2="92.85" stroke="#2a7ef0" stroke-width="0.9"/>
<line x1="364" y1="92.85" x2="371.1" y2="98.7" stroke="#f05a10" stroke-width="0.9"/>
<line x1="378.1" y1="86" x2="374.45" y2="80.55" stroke="#2a7ef0" stroke-width="0.9"/>
<line x1="374.45" y1="80.55" x2="370.8" y2="75.1" stroke="#f05a10" stroke-width="0.9"/>
<line x1="378.1" y1="86" x2="374.6" y2="92.35" stroke="#2a7ef0" stroke-width="0.9"/>
<line x1="374.6" y1="92.35" x2="371.1" y2="98.7" stroke="#f05a10" stroke-width="0.9"/>
<line x1="333.1" y1="90.6" x2="329.15" y2="85.45" stroke="#2a7ef0" stroke-width="0.9"/>
<line x1="329.15" y1="85.45" x2="325.2" y2="80.3" stroke="#f05a10" stroke-width="0.9"/>
<line x1="333.1" y1="90.6" x2="340.05" y2="84.65" stroke="#2a7ef0" stroke-width="0.9"/>
<line x1="340.05" y1="84.65" x2="347" y2="78.7" stroke="#f05a10" stroke-width="0.9"/>
<line x1="333.1" y1="90.6" x2="329.45" y2="97.05" stroke="#2a7ef0" stroke-width="0.9"/>
<line x1="329.45" y1="97.05" x2="325.8" y2="103.5" stroke="#f05a10" stroke-width="0.9"/>
<line x1="333.1" y1="90.6" x2="340.35" y2="96.55" stroke="#2a7ef0" stroke-width="0.9"/>
<line x1="340.35" y1="96.55" x2="347.6" y2="102.5" stroke="#f05a10" stroke-width="0.9"/>
<line x1="354.6" y1="89.2" x2="350.8" y2="83.95" stroke="#2a7ef0" stroke-width="0.9"/>
<line x1="350.8" y1="83.95" x2="347" y2="78.7" stroke="#f05a10" stroke-width="0.9"/>
<line x1="354.6" y1="89.2" x2="361.55" y2="83.25" stroke="#2a7ef0" stroke-width="0.9"/>
<line x1="361.55" y1="83.25" x2="368.5" y2="77.3" stroke="#f05a10" stroke-width="0.9"/>
<line x1="354.6" y1="89.2" x2="351.1" y2="95.85" stroke="#2a7ef0" stroke-width="0.9"/>
<line x1="351.1" y1="95.85" x2="347.6" y2="102.5" stroke="#f05a10" stroke-width="0.9"/>
<line x1="354.6" y1="89.2" x2="361.7" y2="95.05" stroke="#2a7ef0" stroke-width="0.9"/>
<line x1="361.7" y1="95.05" x2="368.8" y2="100.9" stroke="#f05a10" stroke-width="0.9"/>
<line x1="375.8" y1="88.2" x2="372.15" y2="82.75" stroke="#2a7ef0" stroke-width="0.9"/>
<line x1="372.15" y1="82.75" x2="368.5" y2="77.3" stroke="#f05a10" stroke-width="0.9"/>
<line x1="375.8" y1="88.2" x2="372.3" y2="94.55" stroke="#2a7ef0" stroke-width="0.9"/>
<line x1="372.3" y1="94.55" x2="368.8" y2="100.9" stroke="#f05a10" stroke-width="0.9"/>
<line x1="330.8" y1="92.8" x2="326.85" y2="87.65" stroke="#2a7ef0" stroke-width="0.9"/>
<line x1="326.85" y1="87.65" x2="322.9" y2="82.5" stroke="#f05a10" stroke-width="0.9"/>
<line x1="330.8" y1="92.8" x2="337.75" y2="86.85" stroke="#2a7ef0" stroke-width="0.9"/>
<line x1="337.75" y1="86.85" x2="344.7" y2="80.9" stroke="#f05a10" stroke-width="0.9"/>
<line x1="330.8" y1="92.8" x2="327.15" y2="99.25" stroke="#2a7ef0" stroke-width="0.9"/>
<line x1="327.15" y1="99.25" x2="323.5" y2="105.7" stroke="#f05a10" stroke-width="0.9"/>
<line x1="330.8" y1="92.8" x2="338.05" y2="98.75" stroke="#2a7ef0" stroke-width="0.9"/>
<line x1="338.05" y1="98.75" x2="345.3" y2="104.7" stroke="#f05a10" stroke-width="0.9"/>
<line x1="352.3" y1="91.4" x2="348.5" y2="86.15" stroke="#2a7ef0" stroke-width="0.9"/>
<line x1="348.5" y1="86.15" x2="344.7" y2="80.9" stroke="#f05a10" stroke-width="0.9"/>
<line x1="352.3" y1="91.4" x2="359.25" y2="85.45" stroke="#2a7ef0" stroke-width="0.9"/>
<line x1="359.25" y1="85.45" x2="366.2" y2="79.5" stroke="#f05a10" stroke-width="0.9"/>
<line x1="352.3" y1="91.4" x2="348.8" y2="98.05" stroke="#2a7ef0" stroke-width="0.9"/>
<line x1="348.8" y1="98.05" x2="345.3" y2="104.7" stroke="#f05a10" stroke-width="0.9"/>
<line x1="352.3" y1="91.4" x2="359.4" y2="97.25" stroke="#2a7ef0" stroke-width="0.9"/>
<line x1="359.4" y1="97.25" x2="366.5" y2="103.1" stroke="#f05a10" stroke-width="0.9"/>
<line x1="373.5" y1="90.4" x2="369.85" y2="84.95" stroke="#2a7ef0" stroke-width="0.9"/>
<line x1="369.85" y1="84.95" x2="366.2" y2="79.5" stroke="#f05a10" stroke-width="0.9"/>
<line x1="373.5" y1="90.4" x2="370" y2="96.75" stroke="#2a7ef0" stroke-width="0.9"/>
<line x1="370" y1="96.75" x2="366.5" y2="103.1" stroke="#f05a10" stroke-width="0.9"/>
<circle cx="327.5" cy="78.1" r="3.0" fill="url(#sob)" stroke="#601800" stroke-width="0.5"/>
<circle cx="349.3" cy="76.5" r="3.0" fill="url(#sob)" stroke="#601800" stroke-width="0.5"/>
<circle cx="370.8" cy="75.1" r="3.0" fill="url(#sob)" stroke="#601800" stroke-width="0.5"/>
<circle cx="328.1" cy="101.3" r="3.0" fill="url(#sob)" stroke="#601800" stroke-width="0.5"/>
<circle cx="349.9" cy="100.3" r="3.0" fill="url(#sob)" stroke="#601800" stroke-width="0.5"/>
<circle cx="371.1" cy="98.7" r="3.0" fill="url(#sob)" stroke="#601800" stroke-width="0.5"/>
<circle cx="335.4" cy="88.4" r="3.0" fill="url(#sbb)" stroke="#062a70" stroke-width="0.5"/>
<circle cx="356.9" cy="87" r="3.0" fill="url(#sbb)" stroke="#062a70" stroke-width="0.5"/>
<circle cx="378.1" cy="86" r="3.0" fill="url(#sbb)" stroke="#062a70" stroke-width="0.5"/>
<circle cx="325.2" cy="80.3" r="3.0" fill="url(#sob)" stroke="#601800" stroke-width="0.5"/>
<circle cx="347" cy="78.7" r="3.0" fill="url(#sob)" stroke="#601800" stroke-width="0.5"/>
<circle cx="368.5" cy="77.3" r="3.0" fill="url(#sob)" stroke="#601800" stroke-width="0.5"/>
<circle cx="325.8" cy="103.5" r="3.0" fill="url(#sob)" stroke="#601800" stroke-width="0.5"/>
<circle cx="347.6" cy="102.5" r="3.0" fill="url(#sob)" stroke="#601800" stroke-width="0.5"/>
<circle cx="368.8" cy="100.9" r="3.0" fill="url(#sob)" stroke="#601800" stroke-width="0.5"/>
<circle cx="333.1" cy="90.6" r="3.0" fill="url(#sbb)" stroke="#062a70" stroke-width="0.5"/>
<circle cx="354.6" cy="89.2" r="3.0" fill="url(#sbb)" stroke="#062a70" stroke-width="0.5"/>
<circle cx="375.8" cy="88.2" r="3.0" fill="url(#sbb)" stroke="#062a70" stroke-width="0.5"/>
<circle cx="322.9" cy="82.5" r="3.2" fill="url(#so)"/>
<circle cx="344.7" cy="80.9" r="3.2" fill="url(#so)"/>
<circle cx="366.2" cy="79.5" r="3.2" fill="url(#so)"/>
<circle cx="323.5" cy="105.7" r="3.2" fill="url(#so)"/>
<circle cx="345.3" cy="104.7" r="3.2" fill="url(#so)"/>
<circle cx="366.5" cy="103.1" r="3.2" fill="url(#so)"/>
<circle cx="330.8" cy="92.8" r="3.2" fill="url(#sb)"/>
<circle cx="352.3" cy="91.4" r="3.2" fill="url(#sb)"/>
<circle cx="373.5" cy="90.4" r="3.2" fill="url(#sb)"/>
<line x1="309" y1="111.7" x2="309" y2="101" stroke="#1830ff" stroke-width="1.1"/>
<line x1="309" y1="111.7" x2="318.8" y2="111.7" stroke="#20d020" stroke-width="1.1"/>
<circle cx="309" cy="111.7" r="1.1" fill="#f01818"/>
<text x="306.6" y="99.4" font-size="8" font-style="italic" font-weight="bold" fill="#fff" font-family="Liberation Serif">c</text>
<text x="299.6" y="115.8" font-size="8" font-style="italic" font-weight="bold" fill="#fff" font-family="Liberation Serif">a</text>
<text x="318" y="121" font-size="8" font-style="italic" font-weight="bold" fill="#fff" font-family="Liberation Serif">b</text>
<clipPath id="clipC"><rect x="95.8" y="141.8" width="96.10000000000001" height="84.0"/></clipPath>
<g clip-path="url(#clipC)" fill="none" stroke-width="1.3">
<path d="M95.8,184.98 L96.4,184.98 L97,184.98 L97.6,184.98 L98.2,184.98 L98.8,184.98 L99.4,184.98 L100,184.98 L100.61,184.98 L101.21,184.98 L101.81,184.98 L102.41,184.98 L103.01,184.98 L103.61,184.98 L104.21,184.98 L104.81,184.98 L105.41,184.98 L106.01,184.98 L106.61,184.98 L107.21,184.98 L107.81,184.98 L108.41,184.98 L109.01,184.98 L109.61,184.98 L110.22,184.98 L110.82,184.98 L111.42,184.98 L112.02,184.98 L112.62,184.98 L113.22,184.98 L113.82,184.98 L114.42,184.98 L115.02,184.98 L115.62,184.98 L116.22,184.98 L116.82,184.98 L117.42,184.98 L118.02,184.98 L118.62,184.98 L119.22,184.98 L119.83,184.98 L120.43,184.98 L121.03,184.98 L121.63,184.98 L122.23,184.98 L122.83,184.98 L123.43,184.98 L124.03,184.98 L124.63,184.98 L125.23,184.98 L125.83,184.98 L126.43,184.98 L127.03,184.98 L127.63,184.98 L128.23,184.98 L128.83,184.98 L129.44,184.98 L130.04,184.98 L130.64,184.98 L131.24,184.98 L131.84,184.98 L132.44,184.98 L133.04,184.98 L133.64,184.98 L134.24,184.98 L134.84,184.98 L135.44,184.98 L136.04,184.98 L136.64,184.98 L137.24,184.98 L137.84,184.98 L138.44,184.98 L139.05,184.98 L139.65,184.98 L140.25,184.98 L140.85,184.98 L141.45,184.98 L142.05,184.98 L142.65,184.98 L143.25,184.98 L143.85,184.98 L144.45,184.98 L145.05,184.98 L145.65,184.98 L146.25,184.98 L146.85,184.98 L147.45,184.98 L148.05,184.98 L148.66,184.98 L149.26,184.98 L149.86,184.98 L150.46,184.98 L151.06,184.98 L151.66,184.98 L152.26,184.98 L152.86,184.98 L153.46,184.98 L154.06,184.98 L154.66,184.98 L155.26,184.98 L155.86,184.98 L156.46,184.98 L157.06,184.98 L157.66,184.98 L158.27,184.98 L158.87,184.98 L159.47,184.98 L160.07,184.98 L160.67,184.98 L161.27,184.98 L161.87,184.98 L162.47,184.98 L163.07,184.98 L163.67,184.98 L164.27,184.98 L164.87,184.98 L165.47,184.98 L166.07,184.98 L166.67,184.98 L167.27,184.98 L167.88,184.98 L168.48,184.98 L169.08,184.98 L169.68,184.98 L170.28,184.98 L170.88,184.98 L171.48,184.98 L172.08,184.98 L172.68,184.98 L173.28,184.98 L173.88,184.98 L174.48,184.98 L175.08,184.98 L175.68,184.98 L176.28,184.98 L176.88,184.98 L177.49,184.98 L178.09,184.98 L178.69,184.98 L179.29,184.98 L179.89,184.98 L180.49,184.98 L181.09,184.98 L181.69,184.98 L182.29,184.98 L182.89,184.98 L183.49,184.98 L184.09,184.98 L184.69,184.98 L185.29,184.98 L185.89,184.98 L186.49,184.98 L187.09,184.98 L187.7,184.98 L188.3,184.98 L188.9,184.98 L189.5,184.98 L190.1,184.98 L190.7,184.98 L191.3,184.98 L191.9,184.98" stroke="#e04418"/>
<path d="M95.8,186.41 L96.4,186.43 L97,186.46 L97.6,186.49 L98.2,186.51 L98.8,186.54 L99.4,186.57 L100,186.6 L100.61,186.63 L101.21,186.66 L101.81,186.69 L102.41,186.73 L103.01,186.76 L103.61,186.79 L104.21,186.83 L104.81,186.87 L105.41,186.9 L106.01,186.94 L106.61,186.98 L107.21,187.02 L107.81,187.07 L108.41,187.11 L109.01,187.15 L109.61,187.2 L110.22,187.25 L110.82,187.3 L111.42,187.35 L112.02,187.4 L112.62,187.45 L113.22,187.51 L113.82,187.57 L114.42,187.63 L115.02,187.69 L115.62,187.75 L116.22,187.82 L116.82,187.89 L117.42,187.96 L118.02,188.03 L118.62,188.11 L119.22,188.19 L119.83,188.27 L120.43,188.36 L121.03,188.45 L121.63,188.54 L122.23,188.63 L122.83,188.73 L123.43,188.84 L124.03,188.95 L124.63,189.06 L125.23,189.18 L125.83,189.3 L126.43,189.43 L127.03,189.56 L127.63,189.7 L128.23,189.85 L128.83,190 L129.44,190.16 L130.04,190.32 L130.64,190.49 L131.24,190.66 L131.84,190.84 L132.44,191.03 L133.04,191.22 L133.64,191.41 L134.24,191.6 L134.84,191.79 L135.44,191.98 L136.04,192.15 L136.64,192.31 L137.24,192.45 L137.84,192.56 L138.44,192.62 L139.05,192.62 L139.65,192.54 L140.25,192.37 L140.85,192.08 L141.45,191.65 L142.05,191.06 L142.65,190.29 L143.25,189.34 L143.85,188.23 L144.45,186.98 L145.05,185.64 L145.65,184.27 L146.25,182.92 L146.85,181.66 L147.45,180.53 L148.05,179.55 L148.66,178.74 L149.26,178.1 L149.86,177.61 L150.46,177.26 L151.06,177.02 L151.66,176.88 L152.26,176.82 L152.86,176.81 L153.46,176.85 L154.06,176.93 L154.66,177.04 L155.26,177.16 L155.86,177.3 L156.46,177.44 L157.06,177.59 L157.66,177.74 L158.27,177.89 L158.87,178.05 L159.47,178.19 L160.07,178.34 L160.67,178.48 L161.27,178.62 L161.87,178.76 L162.47,178.89 L163.07,179.01 L163.67,179.13 L164.27,179.25 L164.87,179.37 L165.47,179.47 L166.07,179.58 L166.67,179.68 L167.27,179.78 L167.88,179.87 L168.48,179.96 L169.08,180.05 L169.68,180.13 L170.28,180.21 L170.88,180.29 L171.48,180.37 L172.08,180.44 L172.68,180.51 L173.28,180.58 L173.88,180.64 L174.48,180.71 L175.08,180.77 L175.68,180.83 L176.28,180.88 L176.88,180.94 L177.49,180.99 L178.09,181.05 L178.69,181.1 L179.29,181.15 L179.89,181.19 L180.49,181.24 L181.09,181.28 L181.69,181.33 L182.29,181.37 L182.89,181.41 L183.49,181.45 L184.09,181.49 L184.69,181.53 L185.29,181.56 L185.89,181.6 L186.49,181.63 L187.09,181.67 L187.7,181.7 L188.3,181.73 L188.9,181.76 L189.5,181.79 L190.1,181.82 L190.7,181.85 L191.3,181.88 L191.9,181.91" stroke="#ff8a10"/>
<path d="M95.8,187.83 L96.4,187.88 L97,187.94 L97.6,187.99 L98.2,188.05 L98.8,188.1 L99.4,188.16 L100,188.22 L100.61,188.28 L101.21,188.34 L101.81,188.41 L102.41,188.47 L103.01,188.54 L103.61,188.61 L104.21,188.68 L104.81,188.75 L105.41,188.83 L106.01,188.9 L106.61,188.98 L107.21,189.07 L107.81,189.15 L108.41,189.24 L109.01,189.33 L109.61,189.42 L110.22,189.51 L110.82,189.61 L111.42,189.71 L112.02,189.82 L112.62,189.93 L113.22,190.04 L113.82,190.15 L114.42,190.27 L115.02,190.4 L115.62,190.52 L116.22,190.66 L116.82,190.79 L117.42,190.94 L118.02,191.08 L118.62,191.24 L119.22,191.4 L119.83,191.56 L120.43,191.73 L121.03,191.91 L121.63,192.1 L122.23,192.29 L122.83,192.49 L123.43,192.7 L124.03,192.92 L124.63,193.14 L125.23,193.38 L125.83,193.63 L126.43,193.88 L127.03,194.15 L127.63,194.43 L128.23,194.72 L128.83,195.02 L129.44,195.33 L130.04,195.66 L130.64,196 L131.24,196.35 L131.84,196.71 L132.44,197.08 L133.04,197.45 L133.64,197.84 L134.24,198.22 L134.84,198.6 L135.44,198.97 L136.04,199.32 L136.64,199.65 L137.24,199.92 L137.84,200.13 L138.44,200.25 L139.05,200.26 L139.65,200.11 L140.25,199.77 L140.85,199.18 L141.45,198.32 L142.05,197.13 L142.65,195.6 L143.25,193.7 L143.85,191.48 L144.45,188.98 L145.05,186.3 L145.65,183.55 L146.25,180.86 L146.85,178.34 L147.45,176.07 L148.05,174.12 L148.66,172.51 L149.26,171.22 L149.86,170.24 L150.46,169.54 L151.06,169.07 L151.66,168.78 L152.26,168.65 L152.86,168.64 L153.46,168.73 L154.06,168.88 L154.66,169.09 L155.26,169.34 L155.86,169.61 L156.46,169.9 L157.06,170.2 L157.66,170.5 L158.27,170.81 L158.87,171.11 L159.47,171.41 L160.07,171.7 L160.67,171.99 L161.27,172.26 L161.87,172.53 L162.47,172.79 L163.07,173.05 L163.67,173.29 L164.27,173.52 L164.87,173.75 L165.47,173.97 L166.07,174.18 L166.67,174.38 L167.27,174.58 L167.88,174.76 L168.48,174.94 L169.08,175.12 L169.68,175.29 L170.28,175.45 L170.88,175.6 L171.48,175.76 L172.08,175.9 L172.68,176.04 L173.28,176.18 L173.88,176.31 L174.48,176.43 L175.08,176.56 L175.68,176.67 L176.28,176.79 L176.88,176.9 L177.49,177.01 L178.09,177.11 L178.69,177.21 L179.29,177.31 L179.89,177.41 L180.49,177.5 L181.09,177.59 L181.69,177.67 L182.29,177.76 L182.89,177.84 L183.49,177.92 L184.09,178 L184.69,178.07 L185.29,178.14 L185.89,178.22 L186.49,178.28 L187.09,178.35 L187.7,178.42 L188.3,178.48 L188.9,178.54 L189.5,178.6 L190.1,178.66 L190.7,178.72 L191.3,178.78 L191.9,178.83" stroke="#ffe81a"/>
<path d="M95.8,189.26 L96.4,189.34 L97,189.42 L97.6,189.5 L98.2,189.58 L98.8,189.66 L99.4,189.75 L100,189.84 L100.61,189.93 L101.21,190.02 L101.81,190.12 L102.41,190.22 L103.01,190.32 L103.61,190.42 L104.21,190.53 L104.81,190.64 L105.41,190.75 L106.01,190.87 L106.61,190.99 L107.21,191.11 L107.81,191.24 L108.41,191.37 L109.01,191.5 L109.61,191.64 L110.22,191.78 L110.82,191.93 L111.42,192.08 L112.02,192.24 L112.62,192.4 L113.22,192.57 L113.82,192.74 L114.42,192.92 L115.02,193.1 L115.62,193.3 L116.22,193.5 L116.82,193.7 L117.42,193.91 L118.02,194.14 L118.62,194.37 L119.22,194.6 L119.83,194.85 L120.43,195.11 L121.03,195.38 L121.63,195.65 L122.23,195.94 L122.83,196.24 L123.43,196.56 L124.03,196.88 L124.63,197.22 L125.23,197.58 L125.83,197.95 L126.43,198.33 L127.03,198.73 L127.63,199.15 L128.23,199.59 L128.83,200.04 L129.44,200.51 L130.04,201 L130.64,201.51 L131.24,202.03 L131.84,202.57 L132.44,203.12 L133.04,203.69 L133.64,204.26 L134.24,204.84 L134.84,205.41 L135.44,205.97 L136.04,206.5 L136.64,206.98 L137.24,207.39 L137.84,207.71 L138.44,207.89 L139.05,207.9 L139.65,207.67 L140.25,207.16 L140.85,206.29 L141.45,204.99 L142.05,203.21 L142.65,200.9 L143.25,198.07 L143.85,194.73 L144.45,190.98 L145.05,186.96 L145.65,182.84 L146.25,178.8 L146.85,175.02 L147.45,171.62 L148.05,168.69 L148.66,166.27 L149.26,164.34 L149.86,162.88 L150.46,161.82 L151.06,161.11 L151.66,160.68 L152.26,160.49 L152.86,160.48 L153.46,160.6 L154.06,160.84 L154.66,161.15 L155.26,161.52 L155.86,161.93 L156.46,162.36 L157.06,162.81 L157.66,163.26 L158.27,163.72 L158.87,164.18 L159.47,164.62 L160.07,165.06 L160.67,165.49 L161.27,165.91 L161.87,166.31 L162.47,166.7 L163.07,167.08 L163.67,167.44 L164.27,167.8 L164.87,168.14 L165.47,168.46 L166.07,168.78 L166.67,169.08 L167.27,169.37 L167.88,169.66 L168.48,169.93 L169.08,170.19 L169.68,170.44 L170.28,170.68 L170.88,170.92 L171.48,171.14 L172.08,171.36 L172.68,171.57 L173.28,171.77 L173.88,171.97 L174.48,172.16 L175.08,172.34 L175.68,172.52 L176.28,172.69 L176.88,172.86 L177.49,173.02 L178.09,173.18 L178.69,173.33 L179.29,173.48 L179.89,173.62 L180.49,173.76 L181.09,173.89 L181.69,174.02 L182.29,174.15 L182.89,174.27 L183.49,174.39 L184.09,174.5 L184.69,174.62 L185.29,174.73 L185.89,174.83 L186.49,174.94 L187.09,175.04 L187.7,175.14 L188.3,175.23 L188.9,175.33 L189.5,175.42 L190.1,175.51 L190.7,175.59 L191.3,175.68 L191.9,175.76" stroke="#fffbe8"/>
<path d="M95.8,189.62 L96.4,189.7 L97,189.79 L97.6,189.87 L98.2,189.96 L98.8,190.05 L99.4,190.15 L100,190.24 L100.61,190.34 L101.21,190.44 L101.81,190.55 L102.41,190.65 L103.01,190.76 L103.61,190.87 L104.21,190.99 L104.81,191.11 L105.41,191.23 L106.01,191.36 L106.61,191.49 L107.21,191.62 L107.81,191.76 L108.41,191.9 L109.01,192.04 L109.61,192.19 L110.22,192.35 L110.82,192.51 L111.42,192.67 L112.02,192.84 L112.62,193.02 L113.22,193.2 L113.82,193.39 L114.42,193.58 L115.02,193.78 L115.62,193.99 L116.22,194.2 L116.82,194.43 L117.42,194.66 L118.02,194.9 L118.62,195.15 L119.22,195.41 L119.83,195.67 L120.43,195.95 L121.03,196.24 L121.63,196.54 L122.23,196.86 L122.83,197.18 L123.43,197.52 L124.03,197.88 L124.63,198.25 L125.23,198.63 L125.83,199.03 L126.43,199.45 L127.03,199.88 L127.63,200.33 L128.23,200.8 L128.83,201.3 L129.44,201.81 L130.04,202.33 L130.64,202.88 L131.24,203.45 L131.84,204.04 L132.44,204.64 L133.04,205.25 L133.64,205.87 L134.24,206.5 L134.84,207.11 L135.44,207.72 L136.04,208.29 L136.64,208.81 L137.24,209.26 L137.84,209.6 L138.44,209.8 L139.05,209.81 L139.65,209.57 L140.25,209.01 L140.85,208.06 L141.45,206.66 L142.05,204.73 L142.65,202.23 L143.25,199.16 L143.85,195.54 L144.45,191.48 L145.05,187.13 L145.65,182.66 L146.25,178.29 L146.85,174.19 L147.45,170.51 L148.05,167.33 L148.66,164.71 L149.26,162.62 L149.86,161.03 L150.46,159.89 L151.06,159.12 L151.66,158.66 L152.26,158.45 L152.86,158.43 L153.46,158.57 L154.06,158.83 L154.66,159.16 L155.26,159.56 L155.86,160 L156.46,160.47 L157.06,160.96 L157.66,161.45 L158.27,161.95 L158.87,162.44 L159.47,162.93 L160.07,163.4 L160.67,163.87 L161.27,164.32 L161.87,164.75 L162.47,165.18 L163.07,165.59 L163.67,165.98 L164.27,166.36 L164.87,166.73 L165.47,167.09 L166.07,167.43 L166.67,167.76 L167.27,168.07 L167.88,168.38 L168.48,168.67 L169.08,168.96 L169.68,169.23 L170.28,169.49 L170.88,169.75 L171.48,169.99 L172.08,170.23 L172.68,170.45 L173.28,170.67 L173.88,170.89 L174.48,171.09 L175.08,171.29 L175.68,171.48 L176.28,171.67 L176.88,171.85 L177.49,172.03 L178.09,172.19 L178.69,172.36 L179.29,172.52 L179.89,172.67 L180.49,172.82 L181.09,172.97 L181.69,173.11 L182.29,173.24 L182.89,173.38 L183.49,173.5 L184.09,173.63 L184.69,173.75 L185.29,173.87 L185.89,173.99 L186.49,174.1 L187.09,174.21 L187.7,174.32 L188.3,174.42 L188.9,174.52 L189.5,174.62 L190.1,174.72 L190.7,174.81 L191.3,174.9 L191.9,174.99" stroke="#7cefc8"/>
<path d="M95.8,190.69 L96.4,190.79 L97,190.89 L97.6,191 L98.2,191.11 L98.8,191.22 L99.4,191.34 L100,191.46 L100.61,191.58 L101.21,191.7 L101.81,191.83 L102.41,191.96 L103.01,192.1 L103.61,192.24 L104.21,192.38 L104.81,192.52 L105.41,192.67 L106.01,192.83 L106.61,192.99 L107.21,193.15 L107.81,193.32 L108.41,193.49 L109.01,193.67 L109.61,193.86 L110.22,194.05 L110.82,194.24 L111.42,194.45 L112.02,194.66 L112.62,194.87 L113.22,195.1 L113.82,195.33 L114.42,195.57 L115.02,195.81 L115.62,196.07 L116.22,196.33 L116.82,196.61 L117.42,196.89 L118.02,197.19 L118.62,197.49 L119.22,197.81 L119.83,198.14 L120.43,198.49 L121.03,198.84 L121.63,199.21 L122.23,199.6 L122.83,200 L123.43,200.42 L124.03,200.85 L124.63,201.31 L125.23,201.78 L125.83,202.27 L126.43,202.78 L127.03,203.32 L127.63,203.88 L128.23,204.46 L128.83,205.06 L129.44,205.69 L130.04,206.34 L130.64,207.02 L131.24,207.71 L131.84,208.43 L132.44,209.17 L133.04,209.93 L133.64,210.69 L134.24,211.46 L134.84,212.22 L135.44,212.96 L136.04,213.67 L136.64,214.31 L137.24,214.86 L137.84,215.28 L138.44,215.53 L139.05,215.54 L139.65,215.24 L140.25,214.55 L140.85,213.39 L141.45,211.66 L142.05,209.29 L142.65,206.21 L143.25,202.43 L143.85,197.98 L144.45,192.98 L145.05,187.62 L145.65,182.13 L146.25,176.74 L146.85,171.7 L147.45,167.17 L148.05,163.26 L148.66,160.03 L149.26,157.46 L149.86,155.51 L150.46,154.1 L151.06,153.15 L151.66,152.58 L152.26,152.33 L152.86,152.31 L153.46,152.48 L154.06,152.79 L154.66,153.21 L155.26,153.7 L155.86,154.24 L156.46,154.82 L157.06,155.42 L157.66,156.03 L158.27,156.64 L158.87,157.24 L159.47,157.84 L160.07,158.42 L160.67,158.99 L161.27,159.55 L161.87,160.09 L162.47,160.61 L163.07,161.11 L163.67,161.6 L164.27,162.07 L164.87,162.52 L165.47,162.96 L166.07,163.38 L166.67,163.78 L167.27,164.17 L167.88,164.55 L168.48,164.91 L169.08,165.26 L169.68,165.59 L170.28,165.92 L170.88,166.23 L171.48,166.53 L172.08,166.82 L172.68,167.1 L173.28,167.37 L173.88,167.64 L174.48,167.89 L175.08,168.13 L175.68,168.37 L176.28,168.6 L176.88,168.82 L177.49,169.04 L178.09,169.24 L178.69,169.45 L179.29,169.64 L179.89,169.83 L180.49,170.01 L181.09,170.19 L181.69,170.37 L182.29,170.53 L182.89,170.7 L183.49,170.86 L184.09,171.01 L184.69,171.16 L185.29,171.31 L185.89,171.45 L186.49,171.59 L187.09,171.72 L187.7,171.86 L188.3,171.98 L188.9,172.11 L189.5,172.23 L190.1,172.35 L190.7,172.46 L191.3,172.58 L191.9,172.69" stroke="#3cb4ec"/>
<path d="M95.8,192.11 L96.4,192.24 L97,192.37 L97.6,192.51 L98.2,192.64 L98.8,192.78 L99.4,192.93 L100,193.08 L100.61,193.23 L101.21,193.38 L101.81,193.54 L102.41,193.71 L103.01,193.88 L103.61,194.05 L104.21,194.23 L104.81,194.41 L105.41,194.6 L106.01,194.79 L106.61,194.99 L107.21,195.19 L107.81,195.41 L108.41,195.62 L109.01,195.85 L109.61,196.08 L110.22,196.32 L110.82,196.56 L111.42,196.81 L112.02,197.08 L112.62,197.35 L113.22,197.62 L113.82,197.91 L114.42,198.21 L115.02,198.52 L115.62,198.84 L116.22,199.17 L116.82,199.52 L117.42,199.87 L118.02,200.24 L118.62,200.62 L119.22,201.02 L119.83,201.43 L120.43,201.86 L121.03,202.31 L121.63,202.77 L122.23,203.25 L122.83,203.75 L123.43,204.28 L124.03,204.82 L124.63,205.39 L125.23,205.98 L125.83,206.59 L126.43,207.24 L127.03,207.9 L127.63,208.6 L128.23,209.33 L128.83,210.08 L129.44,210.86 L130.04,211.68 L130.64,212.52 L131.24,213.4 L131.84,214.3 L132.44,215.22 L133.04,216.16 L133.64,217.12 L134.24,218.08 L134.84,219.03 L135.44,219.96 L136.04,220.84 L136.64,221.64 L137.24,222.33 L137.84,222.86 L138.44,223.17 L139.05,223.18 L139.65,222.8 L140.25,221.95 L140.85,220.49 L141.45,218.33 L142.05,215.36 L142.65,211.52 L143.25,206.79 L143.85,201.23 L144.45,194.98 L145.05,188.28 L145.65,181.42 L146.25,174.69 L146.85,168.38 L147.45,162.71 L148.05,157.83 L148.66,153.79 L149.26,150.58 L149.86,148.14 L150.46,146.38 L151.06,145.19 L151.66,144.49 L152.26,144.16 L152.86,144.14 L153.46,144.35 L154.06,144.74 L154.66,145.26 L155.26,145.88 L155.86,146.56 L156.46,147.28 L157.06,148.03 L157.66,148.79 L158.27,149.55 L158.87,150.31 L159.47,151.05 L160.07,151.78 L160.67,152.5 L161.27,153.19 L161.87,153.86 L162.47,154.52 L163.07,155.15 L163.67,155.75 L164.27,156.34 L164.87,156.91 L165.47,157.45 L166.07,157.98 L166.67,158.48 L167.27,158.97 L167.88,159.44 L168.48,159.89 L169.08,160.33 L169.68,160.75 L170.28,161.15 L170.88,161.54 L171.48,161.92 L172.08,162.28 L172.68,162.63 L173.28,162.97 L173.88,163.3 L174.48,163.62 L175.08,163.92 L175.68,164.22 L176.28,164.5 L176.88,164.78 L177.49,165.05 L178.09,165.31 L178.69,165.56 L179.29,165.81 L179.89,166.04 L180.49,166.27 L181.09,166.5 L181.69,166.71 L182.29,166.92 L182.89,167.13 L183.49,167.33 L184.09,167.52 L184.69,167.71 L185.29,167.89 L185.89,168.07 L186.49,168.24 L187.09,168.41 L187.7,168.57 L188.3,168.73 L188.9,168.89 L189.5,169.04 L190.1,169.19 L190.7,169.34 L191.3,169.48 L191.9,169.61" stroke="#3a6acc"/>
</g>
<rect x="95.8" y="141.8" width="96.1" height="84" fill="none" stroke="#d0d0d0" stroke-width="1.2"/>
<line x1="113.35" y1="225.8" x2="113.35" y2="224.0" stroke="#d8d8d8" stroke-width="0.8"/>
<line x1="130.9" y1="225.8" x2="130.9" y2="224.0" stroke="#d8d8d8" stroke-width="0.8"/>
<line x1="148.45" y1="225.8" x2="148.45" y2="224.0" stroke="#d8d8d8" stroke-width="0.8"/>
<line x1="166" y1="225.8" x2="166" y2="224.0" stroke="#d8d8d8" stroke-width="0.8"/>
<line x1="183.55" y1="225.8" x2="183.55" y2="224.0" stroke="#d8d8d8" stroke-width="0.8"/>
<line x1="95.8" y1="213.58" x2="97.6" y2="213.58" stroke="#d8d8d8" stroke-width="0.8"/>
<line x1="95.8" y1="202.14" x2="97.6" y2="202.14" stroke="#d8d8d8" stroke-width="0.8"/>
<line x1="95.8" y1="190.7" x2="97.6" y2="190.7" stroke="#d8d8d8" stroke-width="0.8"/>
<line x1="95.8" y1="179.26" x2="97.6" y2="179.26" stroke="#d8d8d8" stroke-width="0.8"/>
<line x1="95.8" y1="167.82" x2="97.6" y2="167.82" stroke="#d8d8d8" stroke-width="0.8"/>
<line x1="95.8" y1="156.38" x2="97.6" y2="156.38" stroke="#d8d8d8" stroke-width="0.8"/>
<line x1="95.8" y1="144.94" x2="97.6" y2="144.94" stroke="#d8d8d8" stroke-width="0.8"/>
<text x="93.3" y="148.44" font-size="10.2" letter-spacing="0.4" text-anchor="end" font-weight="bold" fill="#fff" font-family="Liberation Serif">34</text>
<text x="93.3" y="171.32" font-size="10.2" letter-spacing="0.4" text-anchor="end" font-weight="bold" fill="#fff" font-family="Liberation Serif">30</text>
<text x="93.3" y="194.2" font-size="10.2" letter-spacing="0.4" text-anchor="end" font-weight="bold" fill="#fff" font-family="Liberation Serif">26</text>
<text x="93.3" y="217.08" font-size="10.2" letter-spacing="0.4" text-anchor="end" font-weight="bold" fill="#fff" font-family="Liberation Serif">22</text>
<text x="113.75" y="236.4" font-size="10.4" letter-spacing="0.3" text-anchor="middle" font-weight="bold" fill="#fff" font-family="Liberation Serif">1000</text>
<text x="148.85" y="236.4" font-size="10.4" letter-spacing="0.3" text-anchor="middle" font-weight="bold" fill="#fff" font-family="Liberation Serif">1200</text>
<text x="183.95" y="236.4" font-size="10.4" letter-spacing="0.3" text-anchor="middle" font-weight="bold" fill="#fff" font-family="Liberation Serif">1400</text>
<text x="144.3" y="250" font-size="11" text-anchor="middle" font-weight="bold" fill="#fff" font-family="Liberation Serif">λ (nm)</text>
<text transform="translate(70.2,183.5) rotate(-90)" x="0" y="0" font-size="9.8" text-anchor="middle" font-weight="bold" fill="#fff" font-family="Liberation Serif">Re (ε)</text>
<text x="96.7" y="137.5" font-size="10" font-weight="bold" fill="#fff" font-family="Liberation Serif">(c)</text>
<path d="M246.2,142.4 L246.2,220.5 L210.6,220.5" fill="none" stroke="#3a58d0" stroke-width="0.7"/>
<rect x="209.5" y="141.4" width="35.3" height="77.9" fill="none" stroke="#e8e8e0" stroke-width="0.9"/>
<line x1="211.8" y1="146.3" x2="218.3" y2="146.3" stroke="#e04418" stroke-width="1.2"/>
<text x="220.2" y="149.3" font-size="8.2" font-weight="bold" fill="#fff" font-family="Liberation Serif"><tspan font-style="italic">f</tspan><tspan font-size="5.2" dy="1.6">0</tspan><tspan dy="-1.6">=0</tspan></text>
<line x1="211.8" y1="157.27" x2="218.3" y2="157.27" stroke="#ff8a10" stroke-width="1.2"/>
<text x="220.2" y="160.27" font-size="8.2" font-weight="bold" fill="#fff" font-family="Liberation Serif"><tspan font-style="italic">f</tspan><tspan font-size="5.2" dy="1.6">0</tspan><tspan dy="-1.6">=0.2</tspan></text>
<line x1="211.8" y1="168.24" x2="218.3" y2="168.24" stroke="#ffe81a" stroke-width="1.2"/>
<text x="220.2" y="171.24" font-size="8.2" font-weight="bold" fill="#fff" font-family="Liberation Serif"><tspan font-style="italic">f</tspan><tspan font-size="5.2" dy="1.6">0</tspan><tspan dy="-1.6">=0.4</tspan></text>
<line x1="211.8" y1="179.21" x2="218.3" y2="179.21" stroke="#fffbe8" stroke-width="1.2"/>
<text x="220.2" y="182.21" font-size="8.2" font-weight="bold" fill="#fff" font-family="Liberation Serif"><tspan font-style="italic">f</tspan><tspan font-size="5.2" dy="1.6">0</tspan><tspan dy="-1.6">=0.6</tspan></text>
<line x1="211.8" y1="190.18" x2="218.3" y2="190.18" stroke="#7cefc8" stroke-width="1.2"/>
<text x="220.2" y="193.18" font-size="8.2" font-weight="bold" fill="#fff" font-family="Liberation Serif"><tspan font-style="italic">f</tspan><tspan font-size="5.2" dy="1.6">0</tspan><tspan dy="-1.6">=0.65</tspan></text>
<line x1="211.8" y1="201.15" x2="218.3" y2="201.15" stroke="#3cb4ec" stroke-width="1.2"/>
<text x="220.2" y="204.15" font-size="8.2" font-weight="bold" fill="#fff" font-family="Liberation Serif"><tspan font-style="italic">f</tspan><tspan font-size="5.2" dy="1.6">0</tspan><tspan dy="-1.6">=0.8</tspan></text>
<line x1="211.8" y1="212.12" x2="218.3" y2="212.12" stroke="#3a6acc" stroke-width="1.2"/>
<text x="220.2" y="215.12" font-size="8.2" font-weight="bold" fill="#fff" font-family="Liberation Serif"><tspan font-style="italic">f</tspan><tspan font-size="5.2" dy="1.6">0</tspan><tspan dy="-1.6">=1.0</tspan></text>
<clipPath id="clipD"><rect x="286" y="141.9" width="96.3" height="83.5"/></clipPath>
<g clip-path="url(#clipD)" fill="none" stroke-width="1.3">
<path d="M286,222.7 L286.6,222.7 L287.2,222.7 L287.81,222.7 L288.41,222.7 L289.01,222.7 L289.61,222.7 L290.21,222.7 L290.81,222.7 L291.42,222.7 L292.02,222.7 L292.62,222.7 L293.22,222.7 L293.82,222.7 L294.43,222.7 L295.03,222.7 L295.63,222.7 L296.23,222.7 L296.83,222.7 L297.44,222.7 L298.04,222.7 L298.64,222.7 L299.24,222.7 L299.84,222.7 L300.44,222.7 L301.05,222.7 L301.65,222.7 L302.25,222.7 L302.85,222.7 L303.45,222.7 L304.06,222.7 L304.66,222.7 L305.26,222.7 L305.86,222.7 L306.46,222.7 L307.07,222.7 L307.67,222.7 L308.27,222.7 L308.87,222.7 L309.47,222.7 L310.07,222.7 L310.68,222.7 L311.28,222.7 L311.88,222.7 L312.48,222.7 L313.08,222.7 L313.69,222.7 L314.29,222.7 L314.89,222.7 L315.49,222.7 L316.09,222.7 L316.7,222.7 L317.3,222.7 L317.9,222.7 L318.5,222.7 L319.1,222.7 L319.7,222.7 L320.31,222.7 L320.91,222.7 L321.51,222.7 L322.11,222.7 L322.71,222.7 L323.32,222.7 L323.92,222.7 L324.52,222.7 L325.12,222.7 L325.72,222.7 L326.33,222.7 L326.93,222.7 L327.53,222.7 L328.13,222.7 L328.73,222.7 L329.33,222.7 L329.94,222.7 L330.54,222.7 L331.14,222.7 L331.74,222.7 L332.34,222.7 L332.95,222.7 L333.55,222.7 L334.15,222.7 L334.75,222.7 L335.35,222.7 L335.96,222.7 L336.56,222.7 L337.16,222.7 L337.76,222.7 L338.36,222.7 L338.97,222.7 L339.57,222.7 L340.17,222.7 L340.77,222.7 L341.37,222.7 L341.97,222.7 L342.58,222.7 L343.18,222.7 L343.78,222.7 L344.38,222.7 L344.98,222.7 L345.59,222.7 L346.19,222.7 L346.79,222.7 L347.39,222.7 L347.99,222.7 L348.6,222.7 L349.2,222.7 L349.8,222.7 L350.4,222.7 L351,222.7 L351.6,222.7 L352.21,222.7 L352.81,222.7 L353.41,222.7 L354.01,222.7 L354.61,222.7 L355.22,222.7 L355.82,222.7 L356.42,222.7 L357.02,222.7 L357.62,222.7 L358.23,222.7 L358.83,222.7 L359.43,222.7 L360.03,222.7 L360.63,222.7 L361.23,222.7 L361.84,222.7 L362.44,222.7 L363.04,222.7 L363.64,222.7 L364.24,222.7 L364.85,222.7 L365.45,222.7 L366.05,222.7 L366.65,222.7 L367.25,222.7 L367.86,222.7 L368.46,222.7 L369.06,222.7 L369.66,222.7 L370.26,222.7 L370.86,222.7 L371.47,222.7 L372.07,222.7 L372.67,222.7 L373.27,222.7 L373.87,222.7 L374.48,222.7 L375.08,222.7 L375.68,222.7 L376.28,222.7 L376.88,222.7 L377.49,222.7 L378.09,222.7 L378.69,222.7 L379.29,222.7 L379.89,222.7 L380.49,222.7 L381.1,222.7 L381.7,222.7 L382.3,222.7" stroke="#e04418"/>
<path d="M286,222.5 L286.6,222.5 L287.2,222.49 L287.81,222.48 L288.41,222.48 L289.01,222.47 L289.61,222.46 L290.21,222.45 L290.81,222.44 L291.42,222.43 L292.02,222.42 L292.62,222.41 L293.22,222.4 L293.82,222.39 L294.43,222.38 L295.03,222.37 L295.63,222.36 L296.23,222.34 L296.83,222.33 L297.44,222.32 L298.04,222.3 L298.64,222.28 L299.24,222.27 L299.84,222.25 L300.44,222.23 L301.05,222.21 L301.65,222.19 L302.25,222.17 L302.85,222.14 L303.45,222.12 L304.06,222.09 L304.66,222.07 L305.26,222.04 L305.86,222 L306.46,221.97 L307.07,221.94 L307.67,221.9 L308.27,221.86 L308.87,221.81 L309.47,221.77 L310.07,221.72 L310.68,221.67 L311.28,221.61 L311.88,221.55 L312.48,221.48 L313.08,221.41 L313.69,221.34 L314.29,221.25 L314.89,221.16 L315.49,221.07 L316.09,220.96 L316.7,220.85 L317.3,220.72 L317.9,220.59 L318.5,220.44 L319.1,220.28 L319.7,220.1 L320.31,219.9 L320.91,219.68 L321.51,219.45 L322.11,219.18 L322.71,218.89 L323.32,218.57 L323.92,218.22 L324.52,217.82 L325.12,217.39 L325.72,216.9 L326.33,216.37 L326.93,215.79 L327.53,215.14 L328.13,214.44 L328.73,213.69 L329.33,212.89 L329.94,212.04 L330.54,211.17 L331.14,210.31 L331.74,209.47 L332.34,208.71 L332.95,208.05 L333.55,207.55 L334.15,207.23 L334.75,207.12 L335.35,207.22 L335.96,207.52 L336.56,207.99 L337.16,208.61 L337.76,209.32 L338.36,210.09 L338.97,210.89 L339.57,211.69 L340.17,212.47 L340.77,213.21 L341.37,213.91 L341.97,214.57 L342.58,215.17 L343.18,215.72 L343.78,216.23 L344.38,216.69 L344.98,217.12 L345.59,217.5 L346.19,217.85 L346.79,218.17 L347.39,218.46 L347.99,218.73 L348.6,218.97 L349.2,219.19 L349.8,219.39 L350.4,219.58 L351,219.75 L351.6,219.91 L352.21,220.06 L352.81,220.19 L353.41,220.32 L354.01,220.43 L354.61,220.54 L355.22,220.64 L355.82,220.73 L356.42,220.82 L357.02,220.9 L357.62,220.97 L358.23,221.04 L358.83,221.11 L359.43,221.17 L360.03,221.23 L360.63,221.29 L361.23,221.34 L361.84,221.39 L362.44,221.43 L363.04,221.48 L363.64,221.52 L364.24,221.56 L364.85,221.59 L365.45,221.63 L366.05,221.66 L366.65,221.69 L367.25,221.72 L367.86,221.75 L368.46,221.78 L369.06,221.81 L369.66,221.83 L370.26,221.86 L370.86,221.88 L371.47,221.9 L372.07,221.92 L372.67,221.94 L373.27,221.96 L373.87,221.98 L374.48,222 L375.08,222.01 L375.68,222.03 L376.28,222.04 L376.88,222.06 L377.49,222.07 L378.09,222.09 L378.69,222.1 L379.29,222.11 L379.89,222.13 L380.49,222.14 L381.1,222.15 L381.7,222.16 L382.3,222.17" stroke="#ff8a10"/>
<path d="M286,222.31 L286.6,222.29 L287.2,222.28 L287.81,222.27 L288.41,222.25 L289.01,222.24 L289.61,222.22 L290.21,222.2 L290.81,222.18 L291.42,222.17 L292.02,222.15 L292.62,222.13 L293.22,222.11 L293.82,222.09 L294.43,222.06 L295.03,222.04 L295.63,222.01 L296.23,221.99 L296.83,221.96 L297.44,221.93 L298.04,221.9 L298.64,221.87 L299.24,221.83 L299.84,221.8 L300.44,221.76 L301.05,221.72 L301.65,221.68 L302.25,221.64 L302.85,221.59 L303.45,221.54 L304.06,221.49 L304.66,221.43 L305.26,221.37 L305.86,221.31 L306.46,221.24 L307.07,221.17 L307.67,221.1 L308.27,221.02 L308.87,220.93 L309.47,220.84 L310.07,220.74 L310.68,220.63 L311.28,220.52 L311.88,220.4 L312.48,220.27 L313.08,220.12 L313.69,219.97 L314.29,219.81 L314.89,219.63 L315.49,219.43 L316.09,219.22 L316.7,219 L317.3,218.75 L317.9,218.47 L318.5,218.18 L319.1,217.85 L319.7,217.49 L320.31,217.1 L320.91,216.67 L321.51,216.19 L322.11,215.67 L322.71,215.09 L323.32,214.44 L323.92,213.73 L324.52,212.95 L325.12,212.07 L325.72,211.11 L326.33,210.04 L326.93,208.87 L327.53,207.59 L328.13,206.19 L328.73,204.68 L329.33,203.07 L329.94,201.38 L330.54,199.65 L331.14,197.91 L331.74,196.24 L332.34,194.71 L332.95,193.4 L333.55,192.4 L334.15,191.76 L334.75,191.54 L335.35,191.73 L335.96,192.33 L336.56,193.28 L337.16,194.51 L337.76,195.94 L338.36,197.48 L338.97,199.08 L339.57,200.68 L340.17,202.24 L340.77,203.73 L341.37,205.13 L341.97,206.43 L342.58,207.64 L343.18,208.75 L343.78,209.76 L344.38,210.69 L344.98,211.53 L345.59,212.3 L346.19,213 L346.79,213.64 L347.39,214.22 L347.99,214.75 L348.6,215.24 L349.2,215.68 L349.8,216.09 L350.4,216.46 L351,216.8 L351.6,217.12 L352.21,217.41 L352.81,217.68 L353.41,217.93 L354.01,218.16 L354.61,218.38 L355.22,218.58 L355.82,218.76 L356.42,218.93 L357.02,219.1 L357.62,219.25 L358.23,219.39 L358.83,219.52 L359.43,219.65 L360.03,219.76 L360.63,219.87 L361.23,219.98 L361.84,220.07 L362.44,220.17 L363.04,220.25 L363.64,220.34 L364.24,220.41 L364.85,220.49 L365.45,220.56 L366.05,220.63 L366.65,220.69 L367.25,220.75 L367.86,220.81 L368.46,220.86 L369.06,220.91 L369.66,220.96 L370.26,221.01 L370.86,221.06 L371.47,221.1 L372.07,221.14 L372.67,221.18 L373.27,221.22 L373.87,221.26 L374.48,221.29 L375.08,221.33 L375.68,221.36 L376.28,221.39 L376.88,221.42 L377.49,221.45 L378.09,221.48 L378.69,221.5 L379.29,221.53 L379.89,221.55 L380.49,221.58 L381.1,221.6 L381.7,221.62 L382.3,221.65" stroke="#ffe81a"/>
<path d="M286,222.11 L286.6,222.09 L287.2,222.07 L287.81,222.05 L288.41,222.03 L289.01,222 L289.61,221.98 L290.21,221.95 L290.81,221.93 L291.42,221.9 L292.02,221.87 L292.62,221.84 L293.22,221.81 L293.82,221.78 L294.43,221.74 L295.03,221.71 L295.63,221.67 L296.23,221.63 L296.83,221.59 L297.44,221.55 L298.04,221.5 L298.64,221.45 L299.24,221.4 L299.84,221.35 L300.44,221.29 L301.05,221.23 L301.65,221.17 L302.25,221.1 L302.85,221.03 L303.45,220.96 L304.06,220.88 L304.66,220.8 L305.26,220.71 L305.86,220.61 L306.46,220.51 L307.07,220.41 L307.67,220.29 L308.27,220.17 L308.87,220.04 L309.47,219.91 L310.07,219.76 L310.68,219.6 L311.28,219.43 L311.88,219.25 L312.48,219.05 L313.08,218.84 L313.69,218.61 L314.29,218.36 L314.89,218.09 L315.49,217.8 L316.09,217.49 L316.7,217.14 L317.3,216.77 L317.9,216.36 L318.5,215.92 L319.1,215.43 L319.7,214.89 L320.31,214.3 L320.91,213.65 L321.51,212.94 L322.11,212.15 L322.71,211.28 L323.32,210.32 L323.92,209.25 L324.52,208.07 L325.12,206.76 L325.72,205.31 L326.33,203.72 L326.93,201.96 L327.53,200.03 L328.13,197.93 L328.73,195.67 L329.33,193.26 L329.94,190.72 L330.54,188.12 L331.14,185.52 L331.74,183.01 L332.34,180.72 L332.95,178.75 L333.55,177.24 L334.15,176.29 L334.75,175.95 L335.35,176.25 L335.96,177.15 L336.56,178.58 L337.16,180.42 L337.76,182.55 L338.36,184.87 L338.97,187.27 L339.57,189.67 L340.17,192.01 L340.77,194.24 L341.37,196.34 L341.97,198.3 L342.58,200.11 L343.18,201.77 L343.78,203.29 L344.38,204.68 L344.98,205.95 L345.59,207.1 L346.19,208.15 L346.79,209.11 L347.39,209.98 L347.99,210.78 L348.6,211.51 L349.2,212.17 L349.8,212.78 L350.4,213.34 L351,213.86 L351.6,214.33 L352.21,214.77 L352.81,215.17 L353.41,215.55 L354.01,215.89 L354.61,216.21 L355.22,216.51 L355.82,216.79 L356.42,217.05 L357.02,217.29 L357.62,217.52 L358.23,217.73 L358.83,217.93 L359.43,218.12 L360.03,218.29 L360.63,218.46 L361.23,218.61 L361.84,218.76 L362.44,218.9 L363.04,219.03 L363.64,219.15 L364.24,219.27 L364.85,219.38 L365.45,219.49 L366.05,219.59 L366.65,219.68 L367.25,219.77 L367.86,219.86 L368.46,219.94 L369.06,220.02 L369.66,220.1 L370.26,220.17 L370.86,220.24 L371.47,220.3 L372.07,220.36 L372.67,220.42 L373.27,220.48 L373.87,220.54 L374.48,220.59 L375.08,220.64 L375.68,220.69 L376.28,220.73 L376.88,220.78 L377.49,220.82 L378.09,220.86 L378.69,220.9 L379.29,220.94 L379.89,220.98 L380.49,221.02 L381.1,221.05 L381.7,221.09 L382.3,221.12" stroke="#fffbe8"/>
<path d="M286,222.06 L286.6,222.04 L287.2,222.02 L287.81,221.99 L288.41,221.97 L289.01,221.94 L289.61,221.92 L290.21,221.89 L290.81,221.86 L291.42,221.83 L292.02,221.8 L292.62,221.77 L293.22,221.74 L293.82,221.7 L294.43,221.66 L295.03,221.62 L295.63,221.58 L296.23,221.54 L296.83,221.5 L297.44,221.45 L298.04,221.4 L298.64,221.35 L299.24,221.29 L299.84,221.23 L300.44,221.17 L301.05,221.11 L301.65,221.04 L302.25,220.97 L302.85,220.89 L303.45,220.81 L304.06,220.73 L304.66,220.64 L305.26,220.54 L305.86,220.44 L306.46,220.33 L307.07,220.22 L307.67,220.09 L308.27,219.96 L308.87,219.82 L309.47,219.67 L310.07,219.51 L310.68,219.34 L311.28,219.16 L311.88,218.96 L312.48,218.74 L313.08,218.51 L313.69,218.27 L314.29,218 L314.89,217.71 L315.49,217.39 L316.09,217.05 L316.7,216.68 L317.3,216.27 L317.9,215.83 L318.5,215.35 L319.1,214.82 L319.7,214.24 L320.31,213.6 L320.91,212.9 L321.51,212.13 L322.11,211.27 L322.71,210.33 L323.32,209.29 L323.92,208.13 L324.52,206.85 L325.12,205.43 L325.72,203.86 L326.33,202.13 L326.93,200.23 L327.53,198.14 L328.13,195.87 L328.73,193.42 L329.33,190.8 L329.94,188.06 L330.54,185.24 L331.14,182.42 L331.74,179.71 L332.34,177.22 L332.95,175.09 L333.55,173.46 L334.15,172.42 L334.75,172.06 L335.35,172.38 L335.96,173.36 L336.56,174.9 L337.16,176.89 L337.76,179.21 L338.36,181.72 L338.97,184.32 L339.57,186.92 L340.17,189.45 L340.77,191.87 L341.37,194.15 L341.97,196.27 L342.58,198.23 L343.18,200.03 L343.78,201.68 L344.38,203.18 L344.98,204.55 L345.59,205.8 L346.19,206.94 L346.79,207.98 L347.39,208.92 L347.99,209.78 L348.6,210.57 L349.2,211.29 L349.8,211.96 L350.4,212.56 L351,213.12 L351.6,213.63 L352.21,214.11 L352.81,214.55 L353.41,214.95 L354.01,215.33 L354.61,215.67 L355.22,216 L355.82,216.3 L356.42,216.58 L357.02,216.84 L357.62,217.09 L358.23,217.32 L358.83,217.53 L359.43,217.74 L360.03,217.93 L360.63,218.1 L361.23,218.27 L361.84,218.43 L362.44,218.58 L363.04,218.72 L363.64,218.86 L364.24,218.99 L364.85,219.11 L365.45,219.22 L366.05,219.33 L366.65,219.43 L367.25,219.53 L367.86,219.62 L368.46,219.71 L369.06,219.8 L369.66,219.88 L370.26,219.96 L370.86,220.03 L371.47,220.1 L372.07,220.17 L372.67,220.23 L373.27,220.3 L373.87,220.36 L374.48,220.41 L375.08,220.47 L375.68,220.52 L376.28,220.57 L376.88,220.62 L377.49,220.67 L378.09,220.71 L378.69,220.76 L379.29,220.8 L379.89,220.84 L380.49,220.88 L381.1,220.91 L381.7,220.95 L382.3,220.99" stroke="#7cefc8"/>
<path d="M286,221.91 L286.6,221.89 L287.2,221.86 L287.81,221.83 L288.41,221.8 L289.01,221.77 L289.61,221.74 L290.21,221.7 L290.81,221.67 L291.42,221.63 L292.02,221.6 L292.62,221.56 L293.22,221.51 L293.82,221.47 L294.43,221.42 L295.03,221.38 L295.63,221.33 L296.23,221.27 L296.83,221.22 L297.44,221.16 L298.04,221.1 L298.64,221.04 L299.24,220.97 L299.84,220.9 L300.44,220.82 L301.05,220.74 L301.65,220.66 L302.25,220.57 L302.85,220.48 L303.45,220.38 L304.06,220.27 L304.66,220.16 L305.26,220.04 L305.86,219.92 L306.46,219.78 L307.07,219.64 L307.67,219.49 L308.27,219.33 L308.87,219.16 L309.47,218.97 L310.07,218.78 L310.68,218.57 L311.28,218.34 L311.88,218.09 L312.48,217.83 L313.08,217.55 L313.69,217.24 L314.29,216.91 L314.89,216.56 L315.49,216.17 L316.09,215.75 L316.7,215.29 L317.3,214.79 L317.9,214.25 L318.5,213.65 L319.1,213 L319.7,212.29 L320.31,211.5 L320.91,210.64 L321.51,209.69 L322.11,208.64 L322.71,207.47 L323.32,206.19 L323.92,204.77 L324.52,203.19 L325.12,201.45 L325.72,199.52 L326.33,197.39 L326.93,195.04 L327.53,192.47 L328.13,189.68 L328.73,186.66 L329.33,183.44 L329.94,180.06 L330.54,176.59 L331.14,173.13 L331.74,169.79 L332.34,166.72 L332.95,164.11 L333.55,162.09 L334.15,160.82 L334.75,160.37 L335.35,160.77 L335.96,161.97 L336.56,163.87 L337.16,166.32 L337.76,169.17 L338.36,172.26 L338.97,175.46 L339.57,178.66 L340.17,181.78 L340.77,184.76 L341.37,187.56 L341.97,190.17 L342.58,192.58 L343.18,194.8 L343.78,196.83 L344.38,198.68 L344.98,200.37 L345.59,201.9 L346.19,203.3 L346.79,204.58 L347.39,205.74 L347.99,206.8 L348.6,207.77 L349.2,208.66 L349.8,209.48 L350.4,210.22 L351,210.91 L351.6,211.54 L352.21,212.12 L352.81,212.66 L353.41,213.16 L354.01,213.62 L354.61,214.05 L355.22,214.45 L355.82,214.82 L356.42,215.17 L357.02,215.49 L357.62,215.79 L358.23,216.08 L358.83,216.34 L359.43,216.59 L360.03,216.82 L360.63,217.04 L361.23,217.25 L361.84,217.45 L362.44,217.63 L363.04,217.81 L363.64,217.97 L364.24,218.13 L364.85,218.28 L365.45,218.42 L366.05,218.55 L366.65,218.68 L367.25,218.8 L367.86,218.91 L368.46,219.02 L369.06,219.13 L369.66,219.23 L370.26,219.32 L370.86,219.41 L371.47,219.5 L372.07,219.58 L372.67,219.66 L373.27,219.74 L373.87,219.81 L374.48,219.88 L375.08,219.95 L375.68,220.02 L376.28,220.08 L376.88,220.14 L377.49,220.2 L378.09,220.25 L378.69,220.31 L379.29,220.36 L379.89,220.41 L380.49,220.46 L381.1,220.5 L381.7,220.55 L382.3,220.59" stroke="#3cb4ec"/>
<path d="M286,221.71 L286.6,221.68 L287.2,221.65 L287.81,221.61 L288.41,221.58 L289.01,221.54 L289.61,221.5 L290.21,221.46 L290.81,221.41 L291.42,221.37 L292.02,221.32 L292.62,221.27 L293.22,221.22 L293.82,221.16 L294.43,221.11 L295.03,221.05 L295.63,220.98 L296.23,220.92 L296.83,220.85 L297.44,220.78 L298.04,220.7 L298.64,220.62 L299.24,220.53 L299.84,220.45 L300.44,220.35 L301.05,220.25 L301.65,220.15 L302.25,220.04 L302.85,219.92 L303.45,219.8 L304.06,219.67 L304.66,219.53 L305.26,219.38 L305.86,219.22 L306.46,219.06 L307.07,218.88 L307.67,218.69 L308.27,218.49 L308.87,218.27 L309.47,218.04 L310.07,217.8 L310.68,217.53 L311.28,217.25 L311.88,216.94 L312.48,216.61 L313.08,216.26 L313.69,215.88 L314.29,215.47 L314.89,215.02 L315.49,214.54 L316.09,214.01 L316.7,213.44 L317.3,212.82 L317.9,212.14 L318.5,211.39 L319.1,210.58 L319.7,209.68 L320.31,208.7 L320.91,207.62 L321.51,206.43 L322.11,205.12 L322.71,203.67 L323.32,202.06 L323.92,200.28 L324.52,198.31 L325.12,196.13 L325.72,193.72 L326.33,191.06 L326.93,188.13 L327.53,184.92 L328.13,181.42 L328.73,177.65 L329.33,173.63 L329.94,169.4 L330.54,165.07 L331.14,160.73 L331.74,156.56 L332.34,152.73 L332.95,149.46 L333.55,146.94 L334.15,145.35 L334.75,144.79 L335.35,145.29 L335.96,146.79 L336.56,149.16 L337.16,152.23 L337.76,155.79 L338.36,159.65 L338.97,163.66 L339.57,167.65 L340.17,171.55 L340.77,175.27 L341.37,178.77 L341.97,182.04 L342.58,185.05 L343.18,187.82 L343.78,190.36 L344.38,192.67 L344.98,194.78 L345.59,196.7 L346.19,198.45 L346.79,200.05 L347.39,201.5 L347.99,202.83 L348.6,204.04 L349.2,205.15 L349.8,206.17 L350.4,207.1 L351,207.96 L351.6,208.75 L352.21,209.48 L352.81,210.15 L353.41,210.78 L354.01,211.35 L354.61,211.89 L355.22,212.39 L355.82,212.85 L356.42,213.29 L357.02,213.69 L357.62,214.07 L358.23,214.42 L358.83,214.75 L359.43,215.06 L360.03,215.36 L360.63,215.63 L361.23,215.89 L361.84,216.13 L362.44,216.37 L363.04,216.58 L363.64,216.79 L364.24,216.99 L364.85,217.17 L365.45,217.35 L366.05,217.51 L366.65,217.67 L367.25,217.82 L367.86,217.97 L368.46,218.1 L369.06,218.23 L369.66,218.36 L370.26,218.48 L370.86,218.59 L371.47,218.7 L372.07,218.81 L372.67,218.91 L373.27,219 L373.87,219.09 L374.48,219.18 L375.08,219.27 L375.68,219.35 L376.28,219.42 L376.88,219.5 L377.49,219.57 L378.09,219.64 L378.69,219.71 L379.29,219.77 L379.89,219.83 L380.49,219.9 L381.1,219.95 L381.7,220.01 L382.3,220.06" stroke="#3a6acc"/>
</g>
<rect x="286" y="141.9" width="96.3" height="83.5" fill="none" stroke="#d0d0d0" stroke-width="1.2"/>
<line x1="303.55" y1="225.4" x2="303.55" y2="223.6" stroke="#d8d8d8" stroke-width="0.8"/>
<line x1="321.1" y1="225.4" x2="321.1" y2="223.6" stroke="#d8d8d8" stroke-width="0.8"/>
<line x1="338.65" y1="225.4" x2="338.65" y2="223.6" stroke="#d8d8d8" stroke-width="0.8"/>
<line x1="356.2" y1="225.4" x2="356.2" y2="223.6" stroke="#d8d8d8" stroke-width="0.8"/>
<line x1="373.75" y1="225.4" x2="373.75" y2="223.6" stroke="#d8d8d8" stroke-width="0.8"/>
<line x1="286" y1="210.62" x2="287.8" y2="210.62" stroke="#d8d8d8" stroke-width="0.8"/>
<line x1="286" y1="199.13" x2="287.8" y2="199.13" stroke="#d8d8d8" stroke-width="0.8"/>
<line x1="286" y1="187.65" x2="287.8" y2="187.65" stroke="#d8d8d8" stroke-width="0.8"/>
<line x1="286" y1="176.16" x2="287.8" y2="176.16" stroke="#d8d8d8" stroke-width="0.8"/>
<line x1="286" y1="164.68" x2="287.8" y2="164.68" stroke="#d8d8d8" stroke-width="0.8"/>
<line x1="286" y1="153.2" x2="287.8" y2="153.2" stroke="#d8d8d8" stroke-width="0.8"/>
<line x1="286" y1="141.71" x2="287.8" y2="141.71" stroke="#d8d8d8" stroke-width="0.8"/>
<text x="284" y="145.21" font-size="10.2" letter-spacing="0.4" text-anchor="end" font-weight="bold" fill="#fff" font-family="Liberation Serif">14</text>
<text x="284" y="168.18" font-size="10.2" letter-spacing="0.4" text-anchor="end" font-weight="bold" fill="#fff" font-family="Liberation Serif">10</text>
<text x="284" y="191.15" font-size="10.2" letter-spacing="0.4" text-anchor="end" font-weight="bold" fill="#fff" font-family="Liberation Serif">6</text>
<text x="284" y="214.12" font-size="10.2" letter-spacing="0.4" text-anchor="end" font-weight="bold" fill="#fff" font-family="Liberation Serif">2</text>
<text x="303.95" y="236.4" font-size="10.4" letter-spacing="0.3" text-anchor="middle" font-weight="bold" fill="#fff" font-family="Liberation Serif">1000</text>
<text x="339.05" y="236.4" font-size="10.4" letter-spacing="0.3" text-anchor="middle" font-weight="bold" fill="#fff" font-family="Liberation Serif">1200</text>
<text x="374.15" y="236.4" font-size="10.4" letter-spacing="0.3" text-anchor="middle" font-weight="bold" fill="#fff" font-family="Liberation Serif">1400</text>
<text x="334.5" y="250" font-size="11" text-anchor="middle" font-weight="bold" fill="#fff" font-family="Liberation Serif">λ (nm)</text>
<text transform="translate(264.2,183.5) rotate(-90)" x="0" y="0" font-size="9.8" text-anchor="middle" font-weight="bold" fill="#fff" font-family="Liberation Serif">Im (ε)</text>
<text x="286.9" y="138.2" font-size="10" font-weight="bold" fill="#fff" font-family="Liberation Serif">(d)</text>
</g>
</svg>
</body></html>
